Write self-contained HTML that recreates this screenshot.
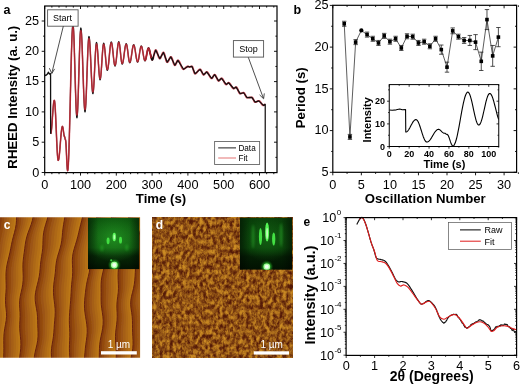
<!DOCTYPE html>
<html><head><meta charset="utf-8"><title>Figure</title>
<style>
html,body{margin:0;padding:0;background:#fff;width:520px;height:386px;overflow:hidden}
svg{display:block}
text{font-family:"Liberation Sans",Arial,sans-serif;fill:#000}
.tl{font-size:12.7px}
.at{font-size:13.2px;font-weight:bold}
.ate{font-size:14px;font-weight:bold}
.pl{font-size:12.5px;font-weight:bold}
.pl2{font-size:12px;font-weight:bold}
.plw{font-size:12px;font-weight:bold;fill:#fff}
.lg{font-size:8.2px}
.lg2{font-size:9px}
.an{font-size:9px}
.il{font-size:9px;font-weight:bold}
.it{font-size:11px;font-weight:bold}
.sup{font-size:8px}
.sb{font-size:10px;fill:#fff}
</style></head><body>
<svg width="520" height="386" viewBox="0 0 520 386">
<rect width="520" height="386" fill="#fff"/>
<g id="panel-c">
<defs><clipPath id="cc"><rect x="0" y="217.3" width="140.1" height="140.5"/></clipPath><filter id="cblur" x="-5%" y="-5%" width="110%" height="110%"><feGaussianBlur stdDeviation="0.6"/></filter></defs>
<g clip-path="url(#cc)"><g filter="url(#cblur)">
<rect x="-5" y="212.3" width="150.1" height="150.5" fill="rgb(122, 48, 12)"/>
<path d="M-14.25 216.3 L-15.29 220.3 L-16.26 224.3 L-17.24 228.3 L-18.31 232.3 L-19.49 236.3 L-20.65 240.3 L-21.62 244.3 L-22.25 248.3 L-22.54 252.3 L-22.55 256.3 L-22.43 260.3 L-22.39 264.3 L-22.56 268.3 L-22.98 272.3 L-23.55 276.3 L-24.11 280.3 L-24.58 284.3 L-25.02 288.3 L-25.56 292.3 L-26.29 296.3 L-27.02 300.3 L-27.55 304.3 L-27.67 308.3 L-27.37 312.3 L-26.85 316.3 L-26.29 320.3 L-25.87 324.3 L-25.63 328.3 L-25.61 332.3 L-25.73 336.3 L-25.88 340.3 L-25.98 344.3 L-26.05 348.3 L-26.18 352.3 L-26.54 356.3 L-27.15 360.3 L150 360.3 L150 216.3Z" fill="rgb(133, 60, 14)"/>
<path d="M-12.26 216.3 L-13.24 220.3 L-14.14 224.3 L-15.06 228.3 L-16.07 232.3 L-17.18 236.3 L-18.27 240.3 L-19.17 244.3 L-19.75 248.3 L-20.03 252.3 L-20.09 256.3 L-20.06 260.3 L-20.14 264.3 L-20.42 268.3 L-20.91 272.3 L-21.52 276.3 L-22.11 280.3 L-22.57 284.3 L-23 288.3 L-23.52 292.3 L-24.2 296.3 L-24.85 300.3 L-25.28 304.3 L-25.29 308.3 L-24.89 312.3 L-24.34 316.3 L-23.78 320.3 L-23.42 324.3 L-23.27 328.3 L-23.33 332.3 L-23.53 336.3 L-23.73 340.3 L-23.89 344.3 L-24.01 348.3 L-24.19 352.3 L-24.57 356.3 L-25.16 360.3 L150 360.3 L150 216.3Z" fill="rgb(146, 74, 17)"/>
<path d="M-10.27 216.3 L-11.19 220.3 L-12.02 224.3 L-12.88 228.3 L-13.83 232.3 L-14.88 236.3 L-15.89 240.3 L-16.72 244.3 L-17.25 248.3 L-17.52 252.3 L-17.63 256.3 L-17.69 260.3 L-17.88 264.3 L-18.27 268.3 L-18.85 272.3 L-19.5 276.3 L-20.1 280.3 L-20.56 284.3 L-20.97 288.3 L-21.47 292.3 L-22.1 296.3 L-22.69 300.3 L-23.01 304.3 L-22.91 308.3 L-22.42 312.3 L-21.82 316.3 L-21.28 320.3 L-20.97 324.3 L-20.9 328.3 L-21.05 332.3 L-21.32 336.3 L-21.59 340.3 L-21.8 344.3 L-21.97 348.3 L-22.2 352.3 L-22.6 356.3 L-23.18 360.3 L150 360.3 L150 216.3Z" fill="rgb(156, 85, 19)"/>
<path d="M-8.29 216.3 L-9.14 220.3 L-9.91 224.3 L-10.7 228.3 L-11.59 232.3 L-12.57 236.3 L-13.51 240.3 L-14.27 244.3 L-14.75 248.3 L-15.01 252.3 L-15.16 256.3 L-15.32 260.3 L-15.63 264.3 L-16.13 268.3 L-16.79 272.3 L-17.48 276.3 L-18.09 280.3 L-18.55 284.3 L-18.95 288.3 L-19.42 292.3 L-20.01 296.3 L-20.52 300.3 L-20.74 304.3 L-20.53 308.3 L-19.95 312.3 L-19.3 316.3 L-18.77 320.3 L-18.53 324.3 L-18.54 328.3 L-18.77 332.3 L-19.11 336.3 L-19.44 340.3 L-19.7 344.3 L-19.93 348.3 L-20.21 352.3 L-20.64 356.3 L-21.2 360.3 L150 360.3 L150 216.3Z" fill="rgb(165, 95, 21)"/>
<path d="M-6.3 216.3 L-7.09 220.3 L-7.79 224.3 L-8.52 228.3 L-9.35 232.3 L-10.27 236.3 L-11.13 240.3 L-11.82 244.3 L-12.25 248.3 L-12.5 252.3 L-12.7 256.3 L-12.95 260.3 L-13.38 264.3 L-13.98 268.3 L-14.72 272.3 L-15.46 276.3 L-16.08 280.3 L-16.53 284.3 L-16.92 288.3 L-17.37 292.3 L-17.92 296.3 L-18.35 300.3 L-18.47 304.3 L-18.15 308.3 L-17.48 312.3 L-16.78 316.3 L-16.27 320.3 L-16.08 324.3 L-16.17 328.3 L-16.49 332.3 L-16.91 336.3 L-17.29 340.3 L-17.61 344.3 L-17.89 348.3 L-18.21 352.3 L-18.67 356.3 L-19.22 360.3 L150 360.3 L150 216.3Z" fill="rgb(173, 104, 22)"/>
<path d="M-4.31 216.3 L-5.04 220.3 L-5.67 224.3 L-6.34 228.3 L-7.11 232.3 L-7.96 236.3 L-8.76 240.3 L-9.37 244.3 L-9.75 248.3 L-10 252.3 L-10.24 256.3 L-10.59 260.3 L-11.12 264.3 L-11.84 268.3 L-12.66 272.3 L-13.44 276.3 L-14.07 280.3 L-14.52 284.3 L-14.9 288.3 L-15.33 292.3 L-15.83 296.3 L-16.18 300.3 L-16.2 304.3 L-15.77 308.3 L-15.01 312.3 L-14.27 316.3 L-13.76 320.3 L-13.63 324.3 L-13.81 328.3 L-14.21 332.3 L-14.7 336.3 L-15.15 340.3 L-15.52 344.3 L-15.85 348.3 L-16.22 352.3 L-16.7 356.3 L-17.24 360.3 L150 360.3 L150 216.3Z" fill="rgb(181, 112, 24)"/>
<path d="M-2.32 216.3 L-2.99 220.3 L-3.56 224.3 L-4.16 228.3 L-4.87 232.3 L-5.66 236.3 L-6.38 240.3 L-6.92 244.3 L-7.25 248.3 L-7.49 252.3 L-7.78 256.3 L-8.22 260.3 L-8.87 264.3 L-9.7 268.3 L-10.59 272.3 L-11.42 276.3 L-12.06 280.3 L-12.51 284.3 L-12.88 288.3 L-13.28 292.3 L-13.73 296.3 L-14.02 300.3 L-13.93 304.3 L-13.39 308.3 L-12.54 312.3 L-11.75 316.3 L-11.25 320.3 L-11.18 324.3 L-11.44 328.3 L-11.94 332.3 L-12.5 336.3 L-13 340.3 L-13.43 344.3 L-13.81 348.3 L-14.23 352.3 L-14.74 356.3 L-15.26 360.3 L150 360.3 L150 216.3Z" fill="rgb(188, 120, 25)"/>
<path d="M-14.25 216.3 L-15.29 220.3 L-16.26 224.3 L-17.24 228.3 L-18.31 232.3 L-19.49 236.3 L-20.65 240.3 L-21.62 244.3 L-22.25 248.3 L-22.54 252.3 L-22.55 256.3 L-22.43 260.3 L-22.39 264.3 L-22.56 268.3 L-22.98 272.3 L-23.55 276.3 L-24.11 280.3 L-24.58 284.3 L-25.02 288.3 L-25.56 292.3 L-26.29 296.3 L-27.02 300.3 L-27.55 304.3 L-27.67 308.3 L-27.37 312.3 L-26.85 316.3 L-26.29 320.3 L-25.87 324.3 L-25.63 328.3 L-25.61 332.3 L-25.73 336.3 L-25.88 340.3 L-25.98 344.3 L-26.05 348.3 L-26.18 352.3 L-26.54 356.3 L-27.15 360.3" fill="none" stroke="rgb(104,34,8)" stroke-width="1.0"/>
<path d="M-0.33 216.3 L-0.94 220.3 L-1.44 224.3 L-1.98 228.3 L-2.63 232.3 L-3.35 236.3 L-4 240.3 L-4.47 244.3 L-4.75 248.3 L-4.98 252.3 L-5.31 256.3 L-5.85 260.3 L-6.62 264.3 L-7.55 268.3 L-8.53 272.3 L-9.4 276.3 L-10.06 280.3 L-10.5 284.3 L-10.85 288.3 L-11.23 292.3 L-11.64 296.3 L-11.85 300.3 L-11.66 304.3 L-11.01 308.3 L-10.07 312.3 L-9.23 316.3 L-8.75 320.3 L-8.73 324.3 L-9.08 328.3 L-9.66 332.3 L-10.29 336.3 L-10.85 340.3 L-11.33 344.3 L-11.77 348.3 L-12.23 352.3 L-12.77 356.3 L-13.28 360.3 L150 360.3 L150 216.3Z" fill="rgb(133, 60, 14)"/>
<path d="M2.09 216.3 L1.56 220.3 L1.08 224.3 L0.52 228.3 L-0.18 232.3 L-0.95 236.3 L-1.65 240.3 L-2.18 244.3 L-2.53 248.3 L-2.84 252.3 L-3.26 256.3 L-3.86 260.3 L-4.65 264.3 L-5.55 268.3 L-6.44 272.3 L-7.2 276.3 L-7.76 280.3 L-8.12 284.3 L-8.42 288.3 L-8.77 292.3 L-9.17 296.3 L-9.37 300.3 L-9.19 304.3 L-8.58 308.3 L-7.71 312.3 L-6.98 316.3 L-6.61 320.3 L-6.7 324.3 L-7.1 328.3 L-7.68 332.3 L-8.27 336.3 L-8.76 340.3 L-9.16 344.3 L-9.53 348.3 L-9.94 352.3 L-10.41 356.3 L-10.86 360.3 L150 360.3 L150 216.3Z" fill="rgb(146, 74, 17)"/>
<path d="M4.52 216.3 L4.05 220.3 L3.6 224.3 L3.02 228.3 L2.28 232.3 L1.45 236.3 L0.7 240.3 L0.11 244.3 L-0.31 248.3 L-0.7 252.3 L-1.21 256.3 L-1.87 260.3 L-2.68 264.3 L-3.55 268.3 L-4.36 272.3 L-5.01 276.3 L-5.45 280.3 L-5.73 284.3 L-5.99 288.3 L-6.31 292.3 L-6.7 296.3 L-6.89 300.3 L-6.73 304.3 L-6.14 308.3 L-5.35 312.3 L-4.73 316.3 L-4.47 320.3 L-4.66 324.3 L-5.12 328.3 L-5.7 332.3 L-6.24 336.3 L-6.67 340.3 L-7 344.3 L-7.3 348.3 L-7.64 352.3 L-8.05 356.3 L-8.43 360.3 L150 360.3 L150 216.3Z" fill="rgb(156, 85, 19)"/>
<path d="M6.95 216.3 L6.55 220.3 L6.12 224.3 L5.52 228.3 L4.73 232.3 L3.86 236.3 L3.05 240.3 L2.4 244.3 L1.91 248.3 L1.43 252.3 L0.84 256.3 L0.12 260.3 L-0.71 264.3 L-1.55 268.3 L-2.27 272.3 L-2.81 276.3 L-3.15 280.3 L-3.35 284.3 L-3.55 288.3 L-3.86 292.3 L-4.23 296.3 L-4.42 300.3 L-4.26 304.3 L-3.71 308.3 L-2.99 312.3 L-2.47 316.3 L-2.34 320.3 L-2.62 324.3 L-3.13 328.3 L-3.72 332.3 L-4.22 336.3 L-4.57 340.3 L-4.83 344.3 L-5.06 348.3 L-5.35 352.3 L-5.7 356.3 L-6.01 360.3 L150 360.3 L150 216.3Z" fill="rgb(165, 95, 21)"/>
<path d="M9.37 216.3 L9.05 220.3 L8.64 224.3 L8.02 228.3 L7.19 232.3 L6.26 236.3 L5.4 240.3 L4.69 244.3 L4.14 248.3 L3.57 252.3 L2.89 256.3 L2.1 260.3 L1.25 264.3 L0.45 268.3 L-0.19 272.3 L-0.62 276.3 L-0.85 280.3 L-0.97 284.3 L-1.12 288.3 L-1.4 292.3 L-1.75 296.3 L-1.94 300.3 L-1.79 304.3 L-1.28 308.3 L-0.63 312.3 L-0.22 316.3 L-0.2 320.3 L-0.58 324.3 L-1.15 328.3 L-1.74 332.3 L-2.19 336.3 L-2.48 340.3 L-2.66 344.3 L-2.83 348.3 L-3.05 352.3 L-3.34 356.3 L-3.59 360.3 L150 360.3 L150 216.3Z" fill="rgb(173, 104, 22)"/>
<path d="M11.8 216.3 L11.55 220.3 L11.16 224.3 L10.52 228.3 L9.64 232.3 L8.66 236.3 L7.74 240.3 L6.98 244.3 L6.36 248.3 L5.71 252.3 L4.95 256.3 L4.09 260.3 L3.22 264.3 L2.46 268.3 L1.9 272.3 L1.58 276.3 L1.45 280.3 L1.41 284.3 L1.31 288.3 L1.06 292.3 L0.72 296.3 L0.54 300.3 L0.68 304.3 L1.15 308.3 L1.73 312.3 L2.04 316.3 L1.94 320.3 L1.46 324.3 L0.83 328.3 L0.24 332.3 L-0.17 336.3 L-0.39 340.3 L-0.49 344.3 L-0.59 348.3 L-0.76 352.3 L-0.98 356.3 L-1.16 360.3 L150 360.3 L150 216.3Z" fill="rgb(181, 112, 24)"/>
<path d="M14.22 216.3 L14.04 220.3 L13.68 224.3 L13.02 228.3 L12.1 232.3 L11.06 236.3 L10.09 240.3 L9.28 244.3 L8.58 248.3 L7.85 252.3 L7 256.3 L6.08 260.3 L5.19 264.3 L4.46 268.3 L3.98 272.3 L3.77 276.3 L3.75 280.3 L3.79 284.3 L3.74 288.3 L3.52 292.3 L3.19 296.3 L3.02 300.3 L3.15 304.3 L3.58 308.3 L4.09 312.3 L4.29 316.3 L4.08 320.3 L3.49 324.3 L2.81 328.3 L2.22 332.3 L1.85 336.3 L1.71 340.3 L1.67 344.3 L1.64 348.3 L1.54 352.3 L1.37 356.3 L1.26 360.3 L150 360.3 L150 216.3Z" fill="rgb(188, 120, 25)"/>
<path d="M-0.33 216.3 L-0.94 220.3 L-1.44 224.3 L-1.98 228.3 L-2.63 232.3 L-3.35 236.3 L-4 240.3 L-4.47 244.3 L-4.75 248.3 L-4.98 252.3 L-5.31 256.3 L-5.85 260.3 L-6.62 264.3 L-7.55 268.3 L-8.53 272.3 L-9.4 276.3 L-10.06 280.3 L-10.5 284.3 L-10.85 288.3 L-11.23 292.3 L-11.64 296.3 L-11.85 300.3 L-11.66 304.3 L-11.01 308.3 L-10.07 312.3 L-9.23 316.3 L-8.75 320.3 L-8.73 324.3 L-9.08 328.3 L-9.66 332.3 L-10.29 336.3 L-10.85 340.3 L-11.33 344.3 L-11.77 348.3 L-12.23 352.3 L-12.77 356.3 L-13.28 360.3" fill="none" stroke="rgb(104,34,8)" stroke-width="1.0"/>
<path d="M16.65 216.3 L16.54 220.3 L16.2 224.3 L15.52 228.3 L14.55 232.3 L13.46 236.3 L12.44 240.3 L11.57 244.3 L10.8 248.3 L9.98 252.3 L9.05 256.3 L8.07 260.3 L7.15 264.3 L6.46 268.3 L6.07 272.3 L5.97 276.3 L6.05 280.3 L6.18 284.3 L6.18 288.3 L5.98 292.3 L5.66 296.3 L5.49 300.3 L5.62 304.3 L6.02 308.3 L6.45 312.3 L6.55 316.3 L6.21 320.3 L5.53 324.3 L4.79 328.3 L4.2 332.3 L3.88 336.3 L3.8 340.3 L3.84 344.3 L3.88 348.3 L3.84 352.3 L3.73 356.3 L3.68 360.3 L150 360.3 L150 216.3Z" fill="rgb(133, 60, 14)"/>
<path d="M19.02 216.3 L18.81 220.3 L18.35 224.3 L17.56 228.3 L16.51 232.3 L15.39 236.3 L14.37 240.3 L13.53 244.3 L12.8 248.3 L12.02 252.3 L11.14 256.3 L10.23 260.3 L9.41 264.3 L8.81 268.3 L8.5 272.3 L8.43 276.3 L8.49 280.3 L8.55 284.3 L8.44 288.3 L8.15 292.3 L7.75 296.3 L7.53 300.3 L7.61 304.3 L7.98 308.3 L8.39 312.3 L8.48 316.3 L8.18 320.3 L7.56 324.3 L6.93 328.3 L6.46 332.3 L6.24 336.3 L6.23 340.3 L6.28 344.3 L6.29 348.3 L6.19 352.3 L6.03 356.3 L5.92 360.3 L150 360.3 L150 216.3Z" fill="rgb(146, 74, 17)"/>
<path d="M21.39 216.3 L21.08 220.3 L20.5 224.3 L19.6 228.3 L18.47 232.3 L17.32 236.3 L16.31 240.3 L15.49 244.3 L14.8 248.3 L14.06 252.3 L13.24 256.3 L12.4 260.3 L11.67 264.3 L11.17 268.3 L10.93 272.3 L10.9 276.3 L10.93 280.3 L10.92 284.3 L10.71 288.3 L10.32 292.3 L9.84 296.3 L9.56 300.3 L9.61 304.3 L9.95 308.3 L10.33 312.3 L10.42 316.3 L10.14 320.3 L9.59 324.3 L9.06 328.3 L8.71 332.3 L8.6 336.3 L8.66 340.3 L8.72 344.3 L8.7 348.3 L8.55 352.3 L8.32 356.3 L8.16 360.3 L150 360.3 L150 216.3Z" fill="rgb(156, 85, 19)"/>
<path d="M23.76 216.3 L23.36 220.3 L22.65 224.3 L21.64 228.3 L20.43 232.3 L19.25 236.3 L18.24 240.3 L17.45 244.3 L16.79 248.3 L16.1 252.3 L15.33 256.3 L14.56 260.3 L13.92 264.3 L13.52 268.3 L13.36 272.3 L13.36 276.3 L13.38 280.3 L13.28 284.3 L12.98 288.3 L12.49 292.3 L11.93 296.3 L11.59 300.3 L11.6 304.3 L11.91 308.3 L12.27 312.3 L12.35 316.3 L12.1 320.3 L11.62 324.3 L11.2 328.3 L10.97 332.3 L10.96 336.3 L11.08 340.3 L11.17 344.3 L11.11 348.3 L10.91 352.3 L10.62 356.3 L10.4 360.3 L150 360.3 L150 216.3Z" fill="rgb(165, 95, 21)"/>
<path d="M26.13 216.3 L25.63 220.3 L24.8 224.3 L23.67 228.3 L22.39 232.3 L21.17 236.3 L20.17 240.3 L19.41 244.3 L18.79 248.3 L18.14 252.3 L17.42 256.3 L16.73 260.3 L16.18 264.3 L15.88 268.3 L15.8 272.3 L15.83 276.3 L15.82 280.3 L15.65 284.3 L15.25 288.3 L14.66 292.3 L14.02 296.3 L13.63 300.3 L13.59 304.3 L13.87 308.3 L14.22 312.3 L14.29 316.3 L14.06 320.3 L13.65 324.3 L13.33 328.3 L13.23 332.3 L13.32 336.3 L13.51 340.3 L13.61 344.3 L13.52 348.3 L13.26 352.3 L12.92 356.3 L12.64 360.3 L150 360.3 L150 216.3Z" fill="rgb(173, 104, 22)"/>
<path d="M28.5 216.3 L27.9 220.3 L26.96 224.3 L25.71 228.3 L24.35 232.3 L23.1 236.3 L22.1 240.3 L21.37 244.3 L20.79 248.3 L20.18 252.3 L19.52 256.3 L18.89 260.3 L18.44 264.3 L18.23 268.3 L18.23 272.3 L18.29 276.3 L18.26 280.3 L18.02 284.3 L17.52 288.3 L16.83 292.3 L16.11 296.3 L15.66 300.3 L15.59 304.3 L15.84 308.3 L16.16 312.3 L16.22 316.3 L16.02 320.3 L15.68 324.3 L15.47 328.3 L15.48 332.3 L15.69 336.3 L15.94 340.3 L16.05 344.3 L15.93 348.3 L15.62 352.3 L15.21 356.3 L14.87 360.3 L150 360.3 L150 216.3Z" fill="rgb(181, 112, 24)"/>
<path d="M30.87 216.3 L30.17 220.3 L29.11 224.3 L27.75 228.3 L26.31 232.3 L25.03 236.3 L24.04 240.3 L23.33 244.3 L22.79 248.3 L22.22 252.3 L21.61 256.3 L21.06 260.3 L20.7 264.3 L20.59 268.3 L20.66 272.3 L20.76 276.3 L20.7 280.3 L20.39 284.3 L19.79 288.3 L19 292.3 L18.2 296.3 L17.69 300.3 L17.58 304.3 L17.8 308.3 L18.1 312.3 L18.16 316.3 L17.99 320.3 L17.71 324.3 L17.6 328.3 L17.74 332.3 L18.05 336.3 L18.37 340.3 L18.49 344.3 L18.35 348.3 L17.98 352.3 L17.51 356.3 L17.11 360.3 L150 360.3 L150 216.3Z" fill="rgb(188, 120, 25)"/>
<path d="M16.65 216.3 L16.54 220.3 L16.2 224.3 L15.52 228.3 L14.55 232.3 L13.46 236.3 L12.44 240.3 L11.57 244.3 L10.8 248.3 L9.98 252.3 L9.05 256.3 L8.07 260.3 L7.15 264.3 L6.46 268.3 L6.07 272.3 L5.97 276.3 L6.05 280.3 L6.18 284.3 L6.18 288.3 L5.98 292.3 L5.66 296.3 L5.49 300.3 L5.62 304.3 L6.02 308.3 L6.45 312.3 L6.55 316.3 L6.21 320.3 L5.53 324.3 L4.79 328.3 L4.2 332.3 L3.88 336.3 L3.8 340.3 L3.84 344.3 L3.88 348.3 L3.84 352.3 L3.73 356.3 L3.68 360.3" fill="none" stroke="rgb(104,34,8)" stroke-width="1.0"/>
<path d="M33.24 216.3 L32.44 220.3 L31.26 224.3 L29.79 228.3 L28.27 232.3 L26.95 236.3 L25.97 240.3 L25.29 244.3 L24.78 248.3 L24.26 252.3 L23.7 256.3 L23.22 260.3 L22.95 264.3 L22.94 268.3 L23.09 272.3 L23.22 276.3 L23.15 280.3 L22.76 284.3 L22.06 288.3 L21.17 292.3 L20.29 296.3 L19.73 300.3 L19.58 304.3 L19.77 308.3 L20.04 312.3 L20.1 316.3 L19.95 320.3 L19.74 324.3 L19.74 328.3 L19.99 332.3 L20.41 336.3 L20.79 340.3 L20.93 344.3 L20.76 348.3 L20.34 352.3 L19.81 356.3 L19.35 360.3 L150 360.3 L150 216.3Z" fill="rgb(133, 60, 14)"/>
<path d="M35.36 216.3 L34.52 220.3 L33.33 224.3 L31.9 228.3 L30.48 232.3 L29.28 236.3 L28.41 240.3 L27.81 244.3 L27.35 248.3 L26.83 252.3 L26.26 256.3 L25.76 260.3 L25.46 264.3 L25.4 268.3 L25.49 272.3 L25.52 276.3 L25.33 280.3 L24.86 284.3 L24.11 288.3 L23.23 292.3 L22.41 296.3 L21.94 300.3 L21.88 304.3 L22.15 308.3 L22.48 312.3 L22.59 316.3 L22.48 320.3 L22.32 324.3 L22.34 328.3 L22.58 332.3 L22.93 336.3 L23.21 340.3 L23.23 344.3 L22.94 348.3 L22.45 352.3 L21.89 356.3 L21.45 360.3 L150 360.3 L150 216.3Z" fill="rgb(146, 74, 17)"/>
<path d="M37.49 216.3 L36.59 220.3 L35.4 224.3 L34.02 228.3 L32.69 232.3 L31.6 236.3 L30.84 240.3 L30.33 244.3 L29.91 248.3 L29.41 252.3 L28.82 256.3 L28.3 260.3 L27.97 264.3 L27.87 268.3 L27.88 272.3 L27.81 276.3 L27.52 280.3 L26.96 284.3 L26.17 288.3 L25.29 292.3 L24.53 296.3 L24.15 300.3 L24.19 304.3 L24.53 308.3 L24.92 312.3 L25.08 316.3 L25.02 320.3 L24.89 324.3 L24.93 328.3 L25.16 332.3 L25.45 336.3 L25.63 340.3 L25.52 344.3 L25.13 348.3 L24.56 352.3 L23.98 356.3 L23.55 360.3 L150 360.3 L150 216.3Z" fill="rgb(156, 85, 19)"/>
<path d="M39.61 216.3 L38.67 220.3 L37.46 224.3 L36.13 228.3 L34.89 232.3 L33.93 236.3 L33.28 240.3 L32.85 244.3 L32.47 248.3 L31.98 252.3 L31.38 256.3 L30.84 260.3 L30.48 264.3 L30.33 268.3 L30.27 272.3 L30.11 276.3 L29.71 280.3 L29.06 284.3 L28.22 288.3 L27.36 292.3 L26.66 296.3 L26.36 300.3 L26.49 304.3 L26.91 308.3 L27.36 312.3 L27.57 316.3 L27.55 320.3 L27.47 324.3 L27.53 328.3 L27.74 332.3 L27.97 336.3 L28.05 340.3 L27.82 344.3 L27.32 348.3 L26.67 352.3 L26.07 356.3 L25.66 360.3 L150 360.3 L150 216.3Z" fill="rgb(165, 95, 21)"/>
<path d="M41.73 216.3 L40.75 220.3 L39.53 224.3 L38.25 228.3 L37.1 232.3 L36.25 236.3 L35.72 240.3 L35.37 244.3 L35.03 248.3 L34.55 252.3 L33.94 256.3 L33.38 260.3 L33 264.3 L32.8 268.3 L32.66 272.3 L32.4 276.3 L31.89 280.3 L31.15 284.3 L30.27 288.3 L29.42 292.3 L28.78 296.3 L28.58 300.3 L28.79 304.3 L29.29 308.3 L29.8 312.3 L30.05 316.3 L30.09 320.3 L30.04 324.3 L30.12 328.3 L30.32 332.3 L30.49 336.3 L30.46 340.3 L30.11 344.3 L29.5 348.3 L28.79 352.3 L28.16 356.3 L27.76 360.3 L150 360.3 L150 216.3Z" fill="rgb(173, 104, 22)"/>
<path d="M43.85 216.3 L42.82 220.3 L41.6 224.3 L40.36 228.3 L39.31 232.3 L38.58 236.3 L38.16 240.3 L37.89 244.3 L37.6 248.3 L37.12 252.3 L36.5 256.3 L35.92 260.3 L35.51 264.3 L35.26 268.3 L35.05 272.3 L34.69 276.3 L34.08 280.3 L33.25 284.3 L32.32 288.3 L31.48 292.3 L30.91 296.3 L30.79 300.3 L31.1 304.3 L31.67 308.3 L32.25 312.3 L32.54 316.3 L32.62 320.3 L32.62 324.3 L32.72 328.3 L32.9 332.3 L33.01 336.3 L32.88 340.3 L32.41 344.3 L31.69 348.3 L30.9 352.3 L30.24 356.3 L29.86 360.3 L150 360.3 L150 216.3Z" fill="rgb(181, 112, 24)"/>
<path d="M45.98 216.3 L44.9 220.3 L43.67 224.3 L42.48 228.3 L41.52 232.3 L40.9 236.3 L40.59 240.3 L40.41 244.3 L40.16 248.3 L39.69 252.3 L39.06 256.3 L38.46 260.3 L38.02 264.3 L37.73 268.3 L37.44 272.3 L36.99 276.3 L36.27 280.3 L35.35 284.3 L34.37 288.3 L33.55 292.3 L33.03 296.3 L33 300.3 L33.4 304.3 L34.06 308.3 L34.69 312.3 L35.03 316.3 L35.16 320.3 L35.19 324.3 L35.32 328.3 L35.49 332.3 L35.53 336.3 L35.3 340.3 L34.71 344.3 L33.87 348.3 L33.01 352.3 L32.33 356.3 L31.96 360.3 L150 360.3 L150 216.3Z" fill="rgb(188, 120, 25)"/>
<path d="M33.24 216.3 L32.44 220.3 L31.26 224.3 L29.79 228.3 L28.27 232.3 L26.95 236.3 L25.97 240.3 L25.29 244.3 L24.78 248.3 L24.26 252.3 L23.7 256.3 L23.22 260.3 L22.95 264.3 L22.94 268.3 L23.09 272.3 L23.22 276.3 L23.15 280.3 L22.76 284.3 L22.06 288.3 L21.17 292.3 L20.29 296.3 L19.73 300.3 L19.58 304.3 L19.77 308.3 L20.04 312.3 L20.1 316.3 L19.95 320.3 L19.74 324.3 L19.74 328.3 L19.99 332.3 L20.41 336.3 L20.79 340.3 L20.93 344.3 L20.76 348.3 L20.34 352.3 L19.81 356.3 L19.35 360.3" fill="none" stroke="rgb(104,34,8)" stroke-width="1.0"/>
<path d="M48.1 216.3 L46.97 220.3 L45.74 224.3 L44.59 228.3 L43.72 232.3 L43.23 236.3 L43.03 240.3 L42.93 244.3 L42.72 248.3 L42.26 252.3 L41.62 256.3 L41 260.3 L40.53 264.3 L40.19 268.3 L39.83 272.3 L39.28 276.3 L38.45 280.3 L37.45 284.3 L36.43 288.3 L35.61 292.3 L35.15 296.3 L35.21 300.3 L35.71 304.3 L36.44 308.3 L37.13 312.3 L37.52 316.3 L37.69 320.3 L37.77 324.3 L37.91 328.3 L38.07 332.3 L38.05 336.3 L37.72 340.3 L37 344.3 L36.06 348.3 L35.13 352.3 L34.42 356.3 L34.06 360.3 L150 360.3 L150 216.3Z" fill="rgb(133, 60, 14)"/>
<path d="M50.51 216.3 L49.45 220.3 L48.3 224.3 L47.23 228.3 L46.42 232.3 L45.94 236.3 L45.71 240.3 L45.53 244.3 L45.2 248.3 L44.63 252.3 L43.91 256.3 L43.24 260.3 L42.74 264.3 L42.4 268.3 L42.05 272.3 L41.51 276.3 L40.72 280.3 L39.78 284.3 L38.87 288.3 L38.16 292.3 L37.81 296.3 L37.92 300.3 L38.42 304.3 L39.1 308.3 L39.71 312.3 L40.03 316.3 L40.13 320.3 L40.14 324.3 L40.23 328.3 L40.32 332.3 L40.25 336.3 L39.88 340.3 L39.17 344.3 L38.28 348.3 L37.44 352.3 L36.86 356.3 L36.61 360.3 L150 360.3 L150 216.3Z" fill="rgb(146, 74, 17)"/>
<path d="M52.92 216.3 L51.93 220.3 L50.85 224.3 L49.86 228.3 L49.11 232.3 L48.66 236.3 L48.39 240.3 L48.12 244.3 L47.69 248.3 L47.01 252.3 L46.2 256.3 L45.48 260.3 L44.96 264.3 L44.61 268.3 L44.26 272.3 L43.74 276.3 L42.99 280.3 L42.12 284.3 L41.3 288.3 L40.72 292.3 L40.46 296.3 L40.63 300.3 L41.13 304.3 L41.76 308.3 L42.3 312.3 L42.54 316.3 L42.56 320.3 L42.52 324.3 L42.55 328.3 L42.58 332.3 L42.45 336.3 L42.04 340.3 L41.33 344.3 L40.5 348.3 L39.76 352.3 L39.29 356.3 L39.16 360.3 L150 360.3 L150 216.3Z" fill="rgb(156, 85, 19)"/>
<path d="M55.33 216.3 L54.41 220.3 L53.41 224.3 L52.49 228.3 L51.81 232.3 L51.37 236.3 L51.07 240.3 L50.72 244.3 L50.17 248.3 L49.38 252.3 L48.49 256.3 L47.72 260.3 L47.18 264.3 L46.83 268.3 L46.48 272.3 L45.97 276.3 L45.25 280.3 L44.46 284.3 L43.74 288.3 L43.27 292.3 L43.11 296.3 L43.34 300.3 L43.84 304.3 L44.42 308.3 L44.89 312.3 L45.04 316.3 L45 320.3 L44.89 324.3 L44.86 328.3 L44.84 332.3 L44.65 336.3 L44.21 340.3 L43.5 344.3 L42.72 348.3 L42.08 352.3 L41.73 356.3 L41.71 360.3 L150 360.3 L150 216.3Z" fill="rgb(165, 95, 21)"/>
<path d="M57.74 216.3 L56.88 220.3 L55.96 224.3 L55.13 228.3 L54.51 232.3 L54.09 236.3 L53.75 240.3 L53.32 244.3 L52.66 248.3 L51.76 252.3 L50.78 256.3 L49.96 260.3 L49.4 264.3 L49.04 268.3 L48.69 272.3 L48.2 276.3 L47.52 280.3 L46.8 284.3 L46.18 288.3 L45.82 292.3 L45.76 296.3 L46.05 300.3 L46.55 304.3 L47.09 308.3 L47.48 312.3 L47.55 316.3 L47.43 320.3 L47.26 324.3 L47.18 328.3 L47.09 332.3 L46.86 336.3 L46.37 340.3 L45.67 344.3 L44.93 348.3 L44.39 352.3 L44.17 356.3 L44.26 360.3 L150 360.3 L150 216.3Z" fill="rgb(173, 104, 22)"/>
<path d="M60.15 216.3 L59.36 220.3 L58.52 224.3 L57.76 228.3 L57.2 232.3 L56.81 236.3 L56.43 240.3 L55.91 244.3 L55.14 248.3 L54.13 252.3 L53.07 256.3 L52.2 260.3 L51.62 264.3 L51.25 268.3 L50.91 272.3 L50.43 276.3 L49.79 280.3 L49.13 284.3 L48.62 288.3 L48.38 292.3 L48.41 296.3 L48.76 300.3 L49.26 304.3 L49.75 308.3 L50.06 312.3 L50.06 316.3 L49.87 320.3 L49.64 324.3 L49.5 328.3 L49.35 332.3 L49.06 336.3 L48.53 340.3 L47.83 344.3 L47.15 348.3 L46.71 352.3 L46.6 356.3 L46.81 360.3 L150 360.3 L150 216.3Z" fill="rgb(181, 112, 24)"/>
<path d="M62.56 216.3 L61.84 220.3 L61.07 224.3 L60.4 228.3 L59.9 232.3 L59.52 236.3 L59.12 240.3 L58.51 244.3 L57.63 248.3 L56.51 252.3 L55.36 256.3 L54.44 260.3 L53.83 264.3 L53.46 268.3 L53.12 272.3 L52.66 276.3 L52.05 280.3 L51.47 284.3 L51.06 288.3 L50.93 292.3 L51.07 296.3 L51.46 300.3 L51.97 304.3 L52.41 308.3 L52.65 312.3 L52.56 316.3 L52.3 320.3 L52.01 324.3 L51.81 328.3 L51.61 332.3 L51.26 336.3 L50.7 340.3 L50 344.3 L49.37 348.3 L49.03 352.3 L49.04 356.3 L49.36 360.3 L150 360.3 L150 216.3Z" fill="rgb(188, 120, 25)"/>
<path d="M48.1 216.3 L46.97 220.3 L45.74 224.3 L44.59 228.3 L43.72 232.3 L43.23 236.3 L43.03 240.3 L42.93 244.3 L42.72 248.3 L42.26 252.3 L41.62 256.3 L41 260.3 L40.53 264.3 L40.19 268.3 L39.83 272.3 L39.28 276.3 L38.45 280.3 L37.45 284.3 L36.43 288.3 L35.61 292.3 L35.15 296.3 L35.21 300.3 L35.71 304.3 L36.44 308.3 L37.13 312.3 L37.52 316.3 L37.69 320.3 L37.77 324.3 L37.91 328.3 L38.07 332.3 L38.05 336.3 L37.72 340.3 L37 344.3 L36.06 348.3 L35.13 352.3 L34.42 356.3 L34.06 360.3" fill="none" stroke="rgb(104,34,8)" stroke-width="1.0"/>
<path d="M64.98 216.3 L64.32 220.3 L63.63 224.3 L63.03 228.3 L62.59 232.3 L62.24 236.3 L61.8 240.3 L61.11 244.3 L60.11 248.3 L58.88 252.3 L57.65 256.3 L56.68 260.3 L56.05 264.3 L55.67 268.3 L55.34 272.3 L54.89 276.3 L54.32 280.3 L53.81 284.3 L53.5 288.3 L53.48 292.3 L53.72 296.3 L54.17 300.3 L54.68 304.3 L55.08 308.3 L55.24 312.3 L55.07 316.3 L54.74 320.3 L54.39 324.3 L54.13 328.3 L53.86 332.3 L53.46 336.3 L52.86 340.3 L52.16 344.3 L51.59 348.3 L51.34 352.3 L51.48 356.3 L51.91 360.3 L150 360.3 L150 216.3Z" fill="rgb(133, 60, 14)"/>
<path d="M67.51 216.3 L66.81 220.3 L66.07 224.3 L65.42 228.3 L64.91 232.3 L64.47 236.3 L63.94 240.3 L63.17 244.3 L62.15 248.3 L60.94 252.3 L59.78 256.3 L58.92 260.3 L58.39 264.3 L58.1 268.3 L57.82 272.3 L57.4 276.3 L56.86 280.3 L56.36 284.3 L56.05 288.3 L56.01 292.3 L56.18 296.3 L56.53 300.3 L56.91 304.3 L57.21 308.3 L57.3 312.3 L57.12 316.3 L56.82 320.3 L56.53 324.3 L56.34 328.3 L56.14 332.3 L55.79 336.3 L55.26 340.3 L54.64 344.3 L54.14 348.3 L53.94 352.3 L54.09 356.3 L54.47 360.3 L150 360.3 L150 216.3Z" fill="rgb(146, 74, 17)"/>
<path d="M70.05 216.3 L69.3 220.3 L68.52 224.3 L67.82 228.3 L67.24 232.3 L66.71 236.3 L66.08 240.3 L65.24 244.3 L64.18 248.3 L63 252.3 L61.92 256.3 L61.15 260.3 L60.73 264.3 L60.52 268.3 L60.3 272.3 L59.92 276.3 L59.4 280.3 L58.92 284.3 L58.61 288.3 L58.53 292.3 L58.64 296.3 L58.89 300.3 L59.15 304.3 L59.34 308.3 L59.37 312.3 L59.18 316.3 L58.91 320.3 L58.68 324.3 L58.56 328.3 L58.42 332.3 L58.13 336.3 L57.67 340.3 L57.11 344.3 L56.68 348.3 L56.54 352.3 L56.7 356.3 L57.04 360.3 L150 360.3 L150 216.3Z" fill="rgb(156, 85, 19)"/>
<path d="M72.59 216.3 L71.8 220.3 L70.96 224.3 L70.21 228.3 L69.56 232.3 L68.94 236.3 L68.22 240.3 L67.31 244.3 L66.22 248.3 L65.06 252.3 L64.05 256.3 L63.39 260.3 L63.08 264.3 L62.95 268.3 L62.78 272.3 L62.43 276.3 L61.94 280.3 L61.47 284.3 L61.16 288.3 L61.06 292.3 L61.1 296.3 L61.24 300.3 L61.39 304.3 L61.47 308.3 L61.44 312.3 L61.23 316.3 L61 320.3 L60.82 324.3 L60.77 328.3 L60.7 332.3 L60.47 336.3 L60.07 340.3 L59.59 344.3 L59.23 348.3 L59.14 352.3 L59.3 356.3 L59.6 360.3 L150 360.3 L150 216.3Z" fill="rgb(165, 95, 21)"/>
<path d="M75.13 216.3 L74.29 220.3 L73.41 224.3 L72.6 228.3 L71.88 232.3 L71.18 236.3 L70.37 240.3 L69.38 244.3 L68.25 248.3 L67.12 252.3 L66.18 256.3 L65.63 260.3 L65.42 264.3 L65.38 268.3 L65.26 272.3 L64.95 276.3 L64.48 280.3 L64.02 284.3 L63.72 288.3 L63.59 292.3 L63.56 296.3 L63.6 300.3 L63.63 304.3 L63.6 308.3 L63.5 312.3 L63.28 316.3 L63.08 320.3 L62.97 324.3 L62.99 328.3 L62.98 332.3 L62.81 336.3 L62.47 340.3 L62.06 344.3 L61.78 348.3 L61.74 352.3 L61.91 356.3 L62.17 360.3 L150 360.3 L150 216.3Z" fill="rgb(173, 104, 22)"/>
<path d="M77.67 216.3 L76.78 220.3 L75.85 224.3 L74.99 228.3 L74.2 232.3 L73.41 236.3 L72.51 240.3 L71.45 244.3 L70.29 248.3 L69.18 252.3 L68.32 256.3 L67.86 260.3 L67.76 264.3 L67.8 268.3 L67.75 272.3 L67.47 276.3 L67.01 280.3 L66.58 284.3 L66.27 288.3 L66.11 292.3 L66.02 296.3 L65.96 300.3 L65.87 304.3 L65.74 308.3 L65.57 312.3 L65.33 316.3 L65.17 320.3 L65.12 324.3 L65.2 328.3 L65.25 332.3 L65.15 336.3 L64.87 340.3 L64.54 344.3 L64.32 348.3 L64.33 352.3 L64.52 356.3 L64.73 360.3 L150 360.3 L150 216.3Z" fill="rgb(181, 112, 24)"/>
<path d="M80.2 216.3 L79.28 220.3 L78.3 224.3 L77.38 228.3 L76.52 232.3 L75.65 236.3 L74.65 240.3 L73.52 244.3 L72.33 248.3 L71.23 252.3 L70.45 256.3 L70.1 260.3 L70.1 264.3 L70.23 268.3 L70.23 272.3 L69.98 276.3 L69.55 280.3 L69.13 284.3 L68.82 288.3 L68.64 292.3 L68.48 296.3 L68.32 300.3 L68.11 304.3 L67.87 308.3 L67.63 312.3 L67.39 316.3 L67.25 320.3 L67.26 324.3 L67.41 328.3 L67.53 332.3 L67.49 336.3 L67.28 340.3 L67.01 344.3 L66.87 348.3 L66.93 352.3 L67.13 356.3 L67.3 360.3 L150 360.3 L150 216.3Z" fill="rgb(188, 120, 25)"/>
<path d="M64.98 216.3 L64.32 220.3 L63.63 224.3 L63.03 228.3 L62.59 232.3 L62.24 236.3 L61.8 240.3 L61.11 244.3 L60.11 248.3 L58.88 252.3 L57.65 256.3 L56.68 260.3 L56.05 264.3 L55.67 268.3 L55.34 272.3 L54.89 276.3 L54.32 280.3 L53.81 284.3 L53.5 288.3 L53.48 292.3 L53.72 296.3 L54.17 300.3 L54.68 304.3 L55.08 308.3 L55.24 312.3 L55.07 316.3 L54.74 320.3 L54.39 324.3 L54.13 328.3 L53.86 332.3 L53.46 336.3 L52.86 340.3 L52.16 344.3 L51.59 348.3 L51.34 352.3 L51.48 356.3 L51.91 360.3" fill="none" stroke="rgb(104,34,8)" stroke-width="1.0"/>
<path d="M82.74 216.3 L81.77 220.3 L80.75 224.3 L79.77 228.3 L78.84 232.3 L77.88 236.3 L76.8 240.3 L75.58 244.3 L74.36 248.3 L73.29 252.3 L72.58 256.3 L72.34 260.3 L72.44 264.3 L72.65 268.3 L72.71 272.3 L72.5 276.3 L72.09 280.3 L71.68 284.3 L71.38 288.3 L71.17 292.3 L70.94 296.3 L70.67 300.3 L70.34 304.3 L70 308.3 L69.7 312.3 L69.44 316.3 L69.34 320.3 L69.41 324.3 L69.63 328.3 L69.81 332.3 L69.82 336.3 L69.68 340.3 L69.49 344.3 L69.41 348.3 L69.53 352.3 L69.74 356.3 L69.86 360.3 L150 360.3 L150 216.3Z" fill="rgb(133, 60, 14)"/>
<path d="M84.8 216.3 L83.78 220.3 L82.75 224.3 L81.8 228.3 L80.9 232.3 L79.97 236.3 L78.93 240.3 L77.79 244.3 L76.66 248.3 L75.7 252.3 L75.07 256.3 L74.87 260.3 L74.96 264.3 L75.11 268.3 L75.08 272.3 L74.77 276.3 L74.28 280.3 L73.81 284.3 L73.46 288.3 L73.21 292.3 L72.95 296.3 L72.67 300.3 L72.36 304.3 L72.08 308.3 L71.88 312.3 L71.73 316.3 L71.75 320.3 L71.89 324.3 L72.13 328.3 L72.3 332.3 L72.27 336.3 L72.07 340.3 L71.82 344.3 L71.69 348.3 L71.74 352.3 L71.87 356.3 L71.91 360.3 L150 360.3 L150 216.3Z" fill="rgb(146, 74, 17)"/>
<path d="M86.85 216.3 L85.79 220.3 L84.76 224.3 L83.82 228.3 L82.95 232.3 L82.06 236.3 L81.07 240.3 L80 244.3 L78.96 248.3 L78.1 252.3 L77.56 256.3 L77.4 260.3 L77.49 264.3 L77.57 268.3 L77.45 272.3 L77.04 276.3 L76.47 280.3 L75.94 284.3 L75.55 288.3 L75.26 292.3 L74.96 296.3 L74.67 300.3 L74.37 304.3 L74.15 308.3 L74.05 312.3 L74.03 316.3 L74.15 320.3 L74.37 324.3 L74.64 328.3 L74.79 332.3 L74.71 336.3 L74.46 340.3 L74.16 344.3 L73.97 348.3 L73.95 352.3 L73.99 356.3 L73.95 360.3 L150 360.3 L150 216.3Z" fill="rgb(156, 85, 19)"/>
<path d="M88.91 216.3 L87.81 220.3 L86.77 224.3 L85.85 228.3 L85.01 232.3 L84.15 236.3 L83.21 240.3 L82.2 244.3 L81.26 248.3 L80.5 252.3 L80.05 256.3 L79.94 260.3 L80.01 264.3 L80.04 268.3 L79.81 272.3 L79.31 276.3 L78.66 280.3 L78.07 284.3 L77.63 288.3 L77.3 292.3 L76.98 296.3 L76.67 300.3 L76.39 304.3 L76.22 308.3 L76.23 312.3 L76.33 316.3 L76.56 320.3 L76.85 324.3 L77.15 328.3 L77.27 332.3 L77.15 336.3 L76.85 340.3 L76.49 344.3 L76.25 348.3 L76.16 352.3 L76.12 356.3 L75.99 360.3 L150 360.3 L150 216.3Z" fill="rgb(165, 95, 21)"/>
<path d="M90.96 216.3 L89.82 220.3 L88.78 224.3 L87.87 228.3 L87.06 232.3 L86.24 236.3 L85.34 240.3 L84.41 244.3 L83.56 248.3 L82.9 252.3 L82.54 256.3 L82.47 260.3 L82.54 264.3 L82.5 268.3 L82.18 272.3 L81.58 276.3 L80.85 280.3 L80.2 284.3 L79.72 288.3 L79.35 292.3 L78.99 296.3 L78.66 300.3 L78.4 304.3 L78.3 308.3 L78.4 312.3 L78.62 316.3 L78.97 320.3 L79.34 324.3 L79.65 328.3 L79.76 332.3 L79.6 336.3 L79.24 340.3 L78.83 344.3 L78.53 348.3 L78.37 352.3 L78.25 356.3 L78.03 360.3 L150 360.3 L150 216.3Z" fill="rgb(173, 104, 22)"/>
<path d="M93.01 216.3 L91.83 220.3 L90.78 224.3 L89.9 228.3 L89.11 232.3 L88.33 236.3 L87.48 240.3 L86.62 244.3 L85.86 248.3 L85.31 252.3 L85.03 256.3 L85.01 260.3 L85.06 264.3 L84.96 268.3 L84.55 272.3 L83.85 276.3 L83.04 280.3 L82.33 284.3 L81.8 288.3 L81.4 292.3 L81.01 296.3 L80.66 300.3 L80.41 304.3 L80.37 308.3 L80.58 312.3 L80.92 316.3 L81.37 320.3 L81.82 324.3 L82.16 328.3 L82.25 332.3 L82.04 336.3 L81.63 340.3 L81.17 344.3 L80.81 348.3 L80.58 352.3 L80.37 356.3 L80.07 360.3 L150 360.3 L150 216.3Z" fill="rgb(181, 112, 24)"/>
<path d="M95.07 216.3 L93.84 220.3 L92.79 224.3 L91.92 228.3 L91.17 232.3 L90.41 236.3 L89.62 240.3 L88.82 244.3 L88.16 248.3 L87.71 252.3 L87.52 256.3 L87.54 260.3 L87.58 264.3 L87.42 268.3 L86.92 272.3 L86.12 276.3 L85.23 280.3 L84.46 284.3 L83.88 288.3 L83.44 292.3 L83.02 296.3 L82.66 300.3 L82.43 304.3 L82.45 308.3 L82.75 312.3 L83.21 316.3 L83.78 320.3 L84.3 324.3 L84.67 328.3 L84.74 332.3 L84.48 336.3 L84.02 340.3 L83.5 344.3 L83.09 348.3 L82.79 352.3 L82.5 356.3 L82.11 360.3 L150 360.3 L150 216.3Z" fill="rgb(188, 120, 25)"/>
<path d="M82.74 216.3 L81.77 220.3 L80.75 224.3 L79.77 228.3 L78.84 232.3 L77.88 236.3 L76.8 240.3 L75.58 244.3 L74.36 248.3 L73.29 252.3 L72.58 256.3 L72.34 260.3 L72.44 264.3 L72.65 268.3 L72.71 272.3 L72.5 276.3 L72.09 280.3 L71.68 284.3 L71.38 288.3 L71.17 292.3 L70.94 296.3 L70.67 300.3 L70.34 304.3 L70 308.3 L69.7 312.3 L69.44 316.3 L69.34 320.3 L69.41 324.3 L69.63 328.3 L69.81 332.3 L69.82 336.3 L69.68 340.3 L69.49 344.3 L69.41 348.3 L69.53 352.3 L69.74 356.3 L69.86 360.3" fill="none" stroke="rgb(104,34,8)" stroke-width="1.0"/>
<path d="M97.12 216.3 L95.85 220.3 L94.8 224.3 L93.95 228.3 L93.22 232.3 L92.5 236.3 L91.75 240.3 L91.03 244.3 L90.46 248.3 L90.11 252.3 L90.01 256.3 L90.08 260.3 L90.11 264.3 L89.88 268.3 L89.29 272.3 L88.39 276.3 L87.42 280.3 L86.59 284.3 L85.97 288.3 L85.49 292.3 L85.03 296.3 L84.66 300.3 L84.44 304.3 L84.52 308.3 L84.93 312.3 L85.51 316.3 L86.19 320.3 L86.78 324.3 L87.17 328.3 L87.23 332.3 L86.93 336.3 L86.41 340.3 L85.84 344.3 L85.36 348.3 L85 352.3 L84.63 356.3 L84.16 360.3 L150 360.3 L150 216.3Z" fill="rgb(133, 60, 14)"/>
<path d="M99.19 216.3 L98.03 220.3 L97.09 224.3 L96.33 228.3 L95.65 232.3 L94.95 236.3 L94.2 240.3 L93.47 244.3 L92.88 248.3 L92.49 252.3 L92.32 256.3 L92.29 260.3 L92.2 264.3 L91.88 268.3 L91.23 272.3 L90.34 276.3 L89.41 280.3 L88.66 284.3 L88.13 288.3 L87.73 292.3 L87.33 296.3 L87.01 300.3 L86.85 304.3 L86.98 308.3 L87.41 312.3 L87.99 316.3 L88.62 320.3 L89.11 324.3 L89.39 328.3 L89.33 332.3 L88.95 336.3 L88.39 340.3 L87.83 344.3 L87.38 348.3 L87.05 352.3 L86.72 356.3 L86.31 360.3 L150 360.3 L150 216.3Z" fill="rgb(146, 74, 17)"/>
<path d="M101.25 216.3 L100.21 220.3 L99.38 224.3 L98.71 228.3 L98.08 232.3 L97.4 236.3 L96.65 240.3 L95.9 244.3 L95.29 248.3 L94.86 252.3 L94.62 256.3 L94.5 260.3 L94.3 264.3 L93.88 268.3 L93.18 272.3 L92.28 276.3 L91.4 280.3 L90.74 284.3 L90.29 288.3 L89.96 292.3 L89.63 296.3 L89.36 300.3 L89.25 304.3 L89.43 308.3 L89.9 312.3 L90.48 316.3 L91.05 320.3 L91.45 324.3 L91.6 328.3 L91.43 332.3 L90.96 336.3 L90.38 340.3 L89.81 344.3 L89.4 348.3 L89.11 352.3 L88.82 356.3 L88.45 360.3 L150 360.3 L150 216.3Z" fill="rgb(156, 85, 19)"/>
<path d="M103.32 216.3 L102.39 220.3 L101.67 224.3 L101.09 228.3 L100.51 232.3 L99.85 236.3 L99.09 240.3 L98.34 244.3 L97.71 248.3 L97.24 252.3 L96.93 256.3 L96.71 260.3 L96.4 264.3 L95.88 268.3 L95.12 272.3 L94.23 276.3 L93.4 280.3 L92.81 284.3 L92.45 288.3 L92.2 292.3 L91.93 296.3 L91.72 300.3 L91.66 304.3 L91.89 308.3 L92.39 312.3 L92.96 316.3 L93.48 320.3 L93.78 324.3 L93.81 328.3 L93.52 332.3 L92.98 336.3 L92.36 340.3 L91.8 344.3 L91.41 348.3 L91.16 352.3 L90.92 356.3 L90.6 360.3 L150 360.3 L150 216.3Z" fill="rgb(165, 95, 21)"/>
<path d="M105.39 216.3 L104.57 220.3 L103.97 224.3 L103.47 228.3 L102.94 232.3 L102.3 236.3 L101.54 240.3 L100.78 244.3 L100.12 248.3 L99.62 252.3 L99.24 256.3 L98.92 260.3 L98.5 264.3 L97.89 268.3 L97.07 272.3 L96.17 276.3 L95.39 280.3 L94.88 284.3 L94.61 288.3 L94.44 292.3 L94.23 296.3 L94.07 300.3 L94.06 304.3 L94.34 308.3 L94.87 312.3 L95.44 316.3 L95.91 320.3 L96.12 324.3 L96.03 328.3 L95.62 332.3 L95 336.3 L94.34 340.3 L93.79 344.3 L93.43 348.3 L93.21 352.3 L93.01 356.3 L92.75 360.3 L150 360.3 L150 216.3Z" fill="rgb(173, 104, 22)"/>
<path d="M107.45 216.3 L106.75 220.3 L106.26 224.3 L105.85 228.3 L105.37 232.3 L104.74 236.3 L103.99 240.3 L103.21 244.3 L102.54 248.3 L101.99 252.3 L101.55 256.3 L101.13 260.3 L100.6 264.3 L99.89 268.3 L99.01 272.3 L98.11 276.3 L97.39 280.3 L96.96 284.3 L96.77 288.3 L96.68 292.3 L96.53 296.3 L96.42 300.3 L96.47 304.3 L96.8 308.3 L97.36 312.3 L97.93 316.3 L98.34 320.3 L98.45 324.3 L98.24 328.3 L97.72 332.3 L97.02 336.3 L96.33 340.3 L95.78 344.3 L95.45 348.3 L95.27 352.3 L95.11 356.3 L94.9 360.3 L150 360.3 L150 216.3Z" fill="rgb(181, 112, 24)"/>
<path d="M109.52 216.3 L108.93 220.3 L108.55 224.3 L108.23 228.3 L107.8 232.3 L107.19 236.3 L106.44 240.3 L105.65 244.3 L104.95 248.3 L104.37 252.3 L103.85 256.3 L103.34 260.3 L102.7 264.3 L101.89 268.3 L100.96 272.3 L100.06 276.3 L99.38 280.3 L99.03 284.3 L98.94 288.3 L98.91 292.3 L98.83 296.3 L98.78 300.3 L98.88 304.3 L99.25 308.3 L99.85 312.3 L100.41 316.3 L100.78 320.3 L100.79 324.3 L100.46 328.3 L99.82 332.3 L99.04 336.3 L98.31 340.3 L97.77 344.3 L97.46 348.3 L97.32 352.3 L97.2 356.3 L97.05 360.3 L150 360.3 L150 216.3Z" fill="rgb(188, 120, 25)"/>
<path d="M97.12 216.3 L95.85 220.3 L94.8 224.3 L93.95 228.3 L93.22 232.3 L92.5 236.3 L91.75 240.3 L91.03 244.3 L90.46 248.3 L90.11 252.3 L90.01 256.3 L90.08 260.3 L90.11 264.3 L89.88 268.3 L89.29 272.3 L88.39 276.3 L87.42 280.3 L86.59 284.3 L85.97 288.3 L85.49 292.3 L85.03 296.3 L84.66 300.3 L84.44 304.3 L84.52 308.3 L84.93 312.3 L85.51 316.3 L86.19 320.3 L86.78 324.3 L87.17 328.3 L87.23 332.3 L86.93 336.3 L86.41 340.3 L85.84 344.3 L85.36 348.3 L85 352.3 L84.63 356.3 L84.16 360.3" fill="none" stroke="rgb(104,34,8)" stroke-width="1.0"/>
<path d="M111.58 216.3 L111.11 220.3 L110.84 224.3 L110.61 228.3 L110.23 232.3 L109.64 236.3 L108.88 240.3 L108.08 244.3 L107.37 248.3 L106.74 252.3 L106.16 256.3 L105.55 260.3 L104.8 264.3 L103.89 268.3 L102.9 272.3 L102 276.3 L101.37 280.3 L101.11 284.3 L101.1 288.3 L101.15 292.3 L101.13 296.3 L101.13 300.3 L101.28 304.3 L101.71 308.3 L102.34 312.3 L102.89 316.3 L103.21 320.3 L103.12 324.3 L102.67 328.3 L101.92 332.3 L101.06 336.3 L100.3 340.3 L99.75 344.3 L99.48 348.3 L99.38 352.3 L99.3 356.3 L99.19 360.3 L150 360.3 L150 216.3Z" fill="rgb(133, 60, 14)"/>
<path d="M114.04 216.3 L113.6 220.3 L113.31 224.3 L113 228.3 L112.52 232.3 L111.82 236.3 L110.97 240.3 L110.12 244.3 L109.37 248.3 L108.73 252.3 L108.14 256.3 L107.53 260.3 L106.81 264.3 L105.97 268.3 L105.08 272.3 L104.3 276.3 L103.77 280.3 L103.58 284.3 L103.58 288.3 L103.6 292.3 L103.51 296.3 L103.43 300.3 L103.52 304.3 L103.88 308.3 L104.45 312.3 L104.94 316.3 L105.19 320.3 L105.05 324.3 L104.6 328.3 L103.89 332.3 L103.12 336.3 L102.47 340.3 L102.04 344.3 L101.85 348.3 L101.79 352.3 L101.73 356.3 L101.61 360.3 L150 360.3 L150 216.3Z" fill="rgb(146, 74, 17)"/>
<path d="M116.5 216.3 L116.09 220.3 L115.78 224.3 L115.39 228.3 L114.81 232.3 L113.99 236.3 L113.06 240.3 L112.15 244.3 L111.37 248.3 L110.72 252.3 L110.12 256.3 L109.52 260.3 L108.83 264.3 L108.05 268.3 L107.26 272.3 L106.59 276.3 L106.18 280.3 L106.04 284.3 L106.06 288.3 L106.04 292.3 L105.89 296.3 L105.74 300.3 L105.75 304.3 L106.05 308.3 L106.56 312.3 L106.99 316.3 L107.17 320.3 L106.99 324.3 L106.52 328.3 L105.86 332.3 L105.18 336.3 L104.65 340.3 L104.33 344.3 L104.23 348.3 L104.21 352.3 L104.16 356.3 L104.03 360.3 L150 360.3 L150 216.3Z" fill="rgb(156, 85, 19)"/>
<path d="M118.96 216.3 L118.58 220.3 L118.25 224.3 L117.79 228.3 L117.09 232.3 L116.17 236.3 L115.15 240.3 L114.18 244.3 L113.38 248.3 L112.71 252.3 L112.1 256.3 L111.5 260.3 L110.84 264.3 L110.13 268.3 L109.44 272.3 L108.89 276.3 L108.58 280.3 L108.51 284.3 L108.54 288.3 L108.49 292.3 L108.27 296.3 L108.04 300.3 L107.99 304.3 L108.23 308.3 L108.67 312.3 L109.04 316.3 L109.15 320.3 L108.92 324.3 L108.45 328.3 L107.83 332.3 L107.24 336.3 L106.82 340.3 L106.63 344.3 L106.6 348.3 L106.63 352.3 L106.59 356.3 L106.45 360.3 L150 360.3 L150 216.3Z" fill="rgb(165, 95, 21)"/>
<path d="M121.42 216.3 L121.07 220.3 L120.71 224.3 L120.18 228.3 L119.38 232.3 L118.35 236.3 L117.24 240.3 L116.21 244.3 L115.38 248.3 L114.69 252.3 L114.08 256.3 L113.49 260.3 L112.86 264.3 L112.21 268.3 L111.62 272.3 L111.18 276.3 L110.98 280.3 L110.98 284.3 L111.02 288.3 L110.93 292.3 L110.65 296.3 L110.35 300.3 L110.22 304.3 L110.4 308.3 L110.79 312.3 L111.08 316.3 L111.14 320.3 L110.86 324.3 L110.37 328.3 L109.8 332.3 L109.3 336.3 L109 340.3 L108.92 344.3 L108.98 348.3 L109.05 352.3 L109.02 356.3 L108.87 360.3 L150 360.3 L150 216.3Z" fill="rgb(173, 104, 22)"/>
<path d="M123.88 216.3 L123.56 220.3 L123.18 224.3 L122.57 228.3 L121.66 232.3 L120.53 236.3 L119.33 240.3 L118.25 244.3 L117.38 248.3 L116.68 252.3 L116.06 256.3 L115.47 260.3 L114.87 264.3 L114.29 268.3 L113.8 272.3 L113.48 276.3 L113.38 280.3 L113.45 284.3 L113.5 288.3 L113.38 292.3 L113.02 296.3 L112.65 300.3 L112.46 304.3 L112.57 308.3 L112.9 312.3 L113.13 316.3 L113.12 320.3 L112.79 324.3 L112.3 328.3 L111.77 332.3 L111.36 336.3 L111.18 340.3 L111.21 344.3 L111.35 348.3 L111.47 352.3 L111.44 356.3 L111.28 360.3 L150 360.3 L150 216.3Z" fill="rgb(181, 112, 24)"/>
<path d="M126.34 216.3 L126.05 220.3 L125.65 224.3 L124.96 228.3 L123.95 232.3 L122.7 236.3 L121.42 240.3 L120.28 244.3 L119.38 248.3 L118.67 252.3 L118.04 256.3 L117.46 260.3 L116.89 264.3 L116.37 268.3 L115.98 272.3 L115.78 276.3 L115.78 280.3 L115.92 284.3 L115.99 288.3 L115.82 292.3 L115.4 296.3 L114.96 300.3 L114.69 304.3 L114.75 308.3 L115.01 312.3 L115.18 316.3 L115.1 320.3 L114.73 324.3 L114.22 328.3 L113.74 332.3 L113.42 336.3 L113.35 340.3 L113.5 344.3 L113.73 348.3 L113.89 352.3 L113.87 356.3 L113.7 360.3 L150 360.3 L150 216.3Z" fill="rgb(188, 120, 25)"/>
<path d="M111.58 216.3 L111.11 220.3 L110.84 224.3 L110.61 228.3 L110.23 232.3 L109.64 236.3 L108.88 240.3 L108.08 244.3 L107.37 248.3 L106.74 252.3 L106.16 256.3 L105.55 260.3 L104.8 264.3 L103.89 268.3 L102.9 272.3 L102 276.3 L101.37 280.3 L101.11 284.3 L101.1 288.3 L101.15 292.3 L101.13 296.3 L101.13 300.3 L101.28 304.3 L101.71 308.3 L102.34 312.3 L102.89 316.3 L103.21 320.3 L103.12 324.3 L102.67 328.3 L101.92 332.3 L101.06 336.3 L100.3 340.3 L99.75 344.3 L99.48 348.3 L99.38 352.3 L99.3 356.3 L99.19 360.3" fill="none" stroke="rgb(104,34,8)" stroke-width="1.0"/>
<path d="M128.79 216.3 L128.54 220.3 L128.11 224.3 L127.36 228.3 L126.24 232.3 L124.88 236.3 L123.51 240.3 L122.31 244.3 L121.39 248.3 L120.65 252.3 L120.02 256.3 L119.44 260.3 L118.9 264.3 L118.45 268.3 L118.16 272.3 L118.07 276.3 L118.18 280.3 L118.38 284.3 L118.47 288.3 L118.27 292.3 L117.78 296.3 L117.26 300.3 L116.93 304.3 L116.92 308.3 L117.13 312.3 L117.23 316.3 L117.08 320.3 L116.66 324.3 L116.15 328.3 L115.7 332.3 L115.48 336.3 L115.53 340.3 L115.79 344.3 L116.1 348.3 L116.31 352.3 L116.3 356.3 L116.12 360.3 L150 360.3 L150 216.3Z" fill="rgb(133, 60, 14)"/>
<path d="M131.03 216.3 L130.69 220.3 L130.17 224.3 L129.32 228.3 L128.16 232.3 L126.81 236.3 L125.5 240.3 L124.41 244.3 L123.58 248.3 L122.94 252.3 L122.36 256.3 L121.83 260.3 L121.32 264.3 L120.89 268.3 L120.61 272.3 L120.5 276.3 L120.56 280.3 L120.66 284.3 L120.62 288.3 L120.31 292.3 L119.75 296.3 L119.2 300.3 L118.89 304.3 L118.94 308.3 L119.2 312.3 L119.36 316.3 L119.28 320.3 L118.93 324.3 L118.49 328.3 L118.12 332.3 L117.96 336.3 L118.03 340.3 L118.25 344.3 L118.49 348.3 L118.59 352.3 L118.47 356.3 L118.2 360.3 L150 360.3 L150 216.3Z" fill="rgb(146, 74, 17)"/>
<path d="M133.27 216.3 L132.84 220.3 L132.22 224.3 L131.29 228.3 L130.08 232.3 L128.75 236.3 L127.5 240.3 L126.5 244.3 L125.78 248.3 L125.22 252.3 L124.71 256.3 L124.21 260.3 L123.73 264.3 L123.33 268.3 L123.06 272.3 L122.94 276.3 L122.93 280.3 L122.93 284.3 L122.78 288.3 L122.36 292.3 L121.72 296.3 L121.15 300.3 L120.86 304.3 L120.95 308.3 L121.28 312.3 L121.5 316.3 L121.47 320.3 L121.19 324.3 L120.83 328.3 L120.54 332.3 L120.43 336.3 L120.53 340.3 L120.72 344.3 L120.87 348.3 L120.86 352.3 L120.63 356.3 L120.28 360.3 L150 360.3 L150 216.3Z" fill="rgb(156, 85, 19)"/>
<path d="M135.51 216.3 L134.99 220.3 L134.27 224.3 L133.26 228.3 L132 232.3 L130.68 236.3 L129.5 240.3 L128.59 244.3 L127.98 248.3 L127.5 252.3 L127.05 256.3 L126.6 260.3 L126.15 264.3 L125.77 268.3 L125.51 272.3 L125.37 276.3 L125.3 280.3 L125.21 284.3 L124.93 288.3 L124.4 292.3 L123.69 296.3 L123.09 300.3 L122.82 304.3 L122.97 308.3 L123.36 312.3 L123.63 316.3 L123.67 320.3 L123.45 324.3 L123.16 328.3 L122.95 332.3 L122.91 336.3 L123.03 340.3 L123.19 344.3 L123.26 348.3 L123.14 352.3 L122.8 356.3 L122.35 360.3 L150 360.3 L150 216.3Z" fill="rgb(165, 95, 21)"/>
<path d="M137.74 216.3 L137.14 220.3 L136.32 224.3 L135.22 228.3 L133.93 232.3 L132.61 236.3 L131.5 240.3 L130.69 244.3 L130.17 248.3 L129.78 252.3 L129.39 256.3 L128.98 260.3 L128.57 264.3 L128.21 268.3 L127.96 272.3 L127.8 276.3 L127.68 280.3 L127.48 284.3 L127.09 288.3 L126.44 292.3 L125.65 296.3 L125.03 300.3 L124.79 304.3 L124.99 308.3 L125.43 312.3 L125.77 316.3 L125.86 320.3 L125.71 324.3 L125.5 328.3 L125.37 332.3 L125.39 336.3 L125.53 340.3 L125.66 344.3 L125.65 348.3 L125.41 352.3 L124.96 356.3 L124.43 360.3 L150 360.3 L150 216.3Z" fill="rgb(173, 104, 22)"/>
<path d="M139.98 216.3 L139.28 220.3 L138.37 224.3 L137.19 228.3 L135.85 232.3 L134.55 236.3 L133.5 240.3 L132.78 244.3 L132.37 248.3 L132.06 252.3 L131.74 256.3 L131.37 260.3 L130.98 264.3 L130.65 268.3 L130.41 272.3 L130.23 276.3 L130.05 280.3 L129.76 284.3 L129.24 288.3 L128.49 292.3 L127.62 296.3 L126.98 300.3 L126.75 304.3 L127 308.3 L127.51 312.3 L127.91 316.3 L128.06 320.3 L127.97 324.3 L127.84 328.3 L127.79 332.3 L127.87 336.3 L128.04 340.3 L128.13 344.3 L128.04 348.3 L127.69 352.3 L127.13 356.3 L126.51 360.3 L150 360.3 L150 216.3Z" fill="rgb(181, 112, 24)"/>
<path d="M142.22 216.3 L141.43 220.3 L140.42 224.3 L139.16 228.3 L137.77 232.3 L136.48 236.3 L135.49 240.3 L134.88 244.3 L134.57 248.3 L134.35 252.3 L134.08 256.3 L133.75 260.3 L133.4 264.3 L133.09 268.3 L132.86 272.3 L132.67 276.3 L132.42 280.3 L132.03 284.3 L131.4 288.3 L130.53 292.3 L129.59 296.3 L128.92 300.3 L128.72 304.3 L129.02 308.3 L129.59 312.3 L130.04 316.3 L130.25 320.3 L130.23 324.3 L130.17 328.3 L130.2 332.3 L130.35 336.3 L130.54 340.3 L130.6 344.3 L130.42 348.3 L129.96 352.3 L129.29 356.3 L128.59 360.3 L150 360.3 L150 216.3Z" fill="rgb(188, 120, 25)"/>
<path d="M128.79 216.3 L128.54 220.3 L128.11 224.3 L127.36 228.3 L126.24 232.3 L124.88 236.3 L123.51 240.3 L122.31 244.3 L121.39 248.3 L120.65 252.3 L120.02 256.3 L119.44 260.3 L118.9 264.3 L118.45 268.3 L118.16 272.3 L118.07 276.3 L118.18 280.3 L118.38 284.3 L118.47 288.3 L118.27 292.3 L117.78 296.3 L117.26 300.3 L116.93 304.3 L116.92 308.3 L117.13 312.3 L117.23 316.3 L117.08 320.3 L116.66 324.3 L116.15 328.3 L115.7 332.3 L115.48 336.3 L115.53 340.3 L115.79 344.3 L116.1 348.3 L116.31 352.3 L116.3 356.3 L116.12 360.3" fill="none" stroke="rgb(104,34,8)" stroke-width="1.0"/>
<path d="M144.45 216.3 L143.58 220.3 L142.47 224.3 L141.12 228.3 L139.69 232.3 L138.42 236.3 L137.49 240.3 L136.97 244.3 L136.76 248.3 L136.63 252.3 L136.42 256.3 L136.14 260.3 L135.81 264.3 L135.53 268.3 L135.31 272.3 L135.1 276.3 L134.79 280.3 L134.31 284.3 L133.55 288.3 L132.57 292.3 L131.56 296.3 L130.86 300.3 L130.68 304.3 L131.03 308.3 L131.66 312.3 L132.18 316.3 L132.45 320.3 L132.49 324.3 L132.51 328.3 L132.62 332.3 L132.83 336.3 L133.04 340.3 L133.07 344.3 L132.81 348.3 L132.24 352.3 L131.45 356.3 L130.67 360.3 L150 360.3 L150 216.3Z" fill="rgb(133, 60, 14)"/>
<path d="M146.47 216.3 L145.62 220.3 L144.55 224.3 L143.27 228.3 L141.94 232.3 L140.76 236.3 L139.93 240.3 L139.47 244.3 L139.26 248.3 L139.08 252.3 L138.79 256.3 L138.41 260.3 L138 264.3 L137.66 268.3 L137.39 272.3 L137.13 276.3 L136.78 280.3 L136.27 284.3 L135.52 288.3 L134.59 292.3 L133.67 296.3 L133.1 300.3 L133.03 304.3 L133.47 308.3 L134.13 312.3 L134.64 316.3 L134.88 320.3 L134.87 324.3 L134.84 328.3 L134.9 332.3 L135.04 336.3 L135.16 340.3 L135.1 344.3 L134.77 348.3 L134.16 352.3 L133.4 356.3 L132.68 360.3 L150 360.3 L150 216.3Z" fill="rgb(146, 74, 17)"/>
<path d="M148.48 216.3 L147.66 220.3 L146.63 224.3 L145.42 228.3 L144.18 232.3 L143.11 236.3 L142.38 240.3 L141.97 244.3 L141.76 248.3 L141.53 252.3 L141.15 256.3 L140.68 260.3 L140.19 264.3 L139.78 268.3 L139.46 272.3 L139.16 276.3 L138.77 280.3 L138.23 284.3 L137.49 288.3 L136.61 292.3 L135.79 296.3 L135.33 300.3 L135.39 304.3 L135.9 308.3 L136.6 312.3 L137.1 316.3 L137.3 320.3 L137.25 324.3 L137.18 328.3 L137.18 332.3 L137.25 336.3 L137.29 340.3 L137.14 344.3 L136.72 348.3 L136.08 352.3 L135.34 356.3 L134.7 360.3 L150 360.3 L150 216.3Z" fill="rgb(156, 85, 19)"/>
<path d="M150.49 216.3 L149.7 220.3 L148.72 224.3 L147.57 228.3 L146.42 232.3 L145.46 236.3 L144.82 240.3 L144.47 244.3 L144.26 248.3 L143.98 252.3 L143.52 256.3 L142.95 260.3 L142.38 264.3 L141.91 268.3 L141.54 272.3 L141.19 276.3 L140.76 280.3 L140.2 284.3 L139.46 288.3 L138.63 292.3 L137.9 296.3 L137.57 300.3 L137.74 304.3 L138.33 308.3 L139.07 312.3 L139.56 316.3 L139.73 320.3 L139.63 324.3 L139.51 328.3 L139.46 332.3 L139.46 336.3 L139.41 340.3 L139.17 344.3 L138.68 348.3 L138 352.3 L137.28 356.3 L136.71 360.3 L150 360.3 L150 216.3Z" fill="rgb(165, 95, 21)"/>
<path d="M152.51 216.3 L151.74 220.3 L150.8 224.3 L149.72 228.3 L148.66 232.3 L147.81 236.3 L147.27 240.3 L146.97 244.3 L146.77 248.3 L146.43 252.3 L145.88 256.3 L145.22 260.3 L144.57 264.3 L144.04 268.3 L143.62 272.3 L143.22 276.3 L142.75 280.3 L142.16 284.3 L141.43 288.3 L140.65 292.3 L140.02 296.3 L139.8 300.3 L140.09 304.3 L140.77 308.3 L141.54 312.3 L142.02 316.3 L142.15 320.3 L142.01 324.3 L141.84 328.3 L141.73 332.3 L141.67 336.3 L141.54 340.3 L141.2 344.3 L140.64 348.3 L139.93 352.3 L139.22 356.3 L138.72 360.3 L150 360.3 L150 216.3Z" fill="rgb(173, 104, 22)"/>
<path d="M154.52 216.3 L153.78 220.3 L152.88 224.3 L151.87 228.3 L150.9 232.3 L150.16 236.3 L149.71 240.3 L149.47 244.3 L149.27 248.3 L148.88 252.3 L148.25 256.3 L147.49 260.3 L146.76 264.3 L146.17 268.3 L145.69 272.3 L145.25 276.3 L144.74 280.3 L144.12 284.3 L143.4 288.3 L142.67 292.3 L142.13 296.3 L142.04 300.3 L142.44 304.3 L143.2 308.3 L144.01 312.3 L144.48 316.3 L144.58 320.3 L144.39 324.3 L144.17 328.3 L144.01 332.3 L143.88 336.3 L143.66 340.3 L143.23 344.3 L142.59 348.3 L141.85 352.3 L141.17 356.3 L140.74 360.3 L150 360.3 L150 216.3Z" fill="rgb(181, 112, 24)"/>
<path d="M156.53 216.3 L155.82 220.3 L154.96 224.3 L154.01 228.3 L153.14 232.3 L152.51 236.3 L152.15 240.3 L151.97 244.3 L151.77 248.3 L151.33 252.3 L150.61 256.3 L149.76 260.3 L148.95 264.3 L148.29 268.3 L147.77 272.3 L147.28 276.3 L146.73 280.3 L146.09 284.3 L145.36 288.3 L144.69 292.3 L144.25 296.3 L144.28 300.3 L144.79 304.3 L145.63 308.3 L146.47 312.3 L146.94 316.3 L147 320.3 L146.77 324.3 L146.51 328.3 L146.29 332.3 L146.09 336.3 L145.79 340.3 L145.27 344.3 L144.55 348.3 L143.77 352.3 L143.11 356.3 L142.75 360.3 L150 360.3 L150 216.3Z" fill="rgb(188, 120, 25)"/>
<path d="M144.45 216.3 L143.58 220.3 L142.47 224.3 L141.12 228.3 L139.69 232.3 L138.42 236.3 L137.49 240.3 L136.97 244.3 L136.76 248.3 L136.63 252.3 L136.42 256.3 L136.14 260.3 L135.81 264.3 L135.53 268.3 L135.31 272.3 L135.1 276.3 L134.79 280.3 L134.31 284.3 L133.55 288.3 L132.57 292.3 L131.56 296.3 L130.86 300.3 L130.68 304.3 L131.03 308.3 L131.66 312.3 L132.18 316.3 L132.45 320.3 L132.49 324.3 L132.51 328.3 L132.62 332.3 L132.83 336.3 L133.04 340.3 L133.07 344.3 L132.81 348.3 L132.24 352.3 L131.45 356.3 L130.67 360.3" fill="none" stroke="rgb(104,34,8)" stroke-width="1.0"/>
<path d="M158.54 216.3 L157.86 220.3 L157.04 224.3 L156.16 228.3 L155.39 232.3 L154.86 236.3 L154.6 240.3 L154.47 244.3 L154.27 248.3 L153.78 252.3 L152.97 256.3 L152.04 260.3 L151.14 264.3 L150.42 268.3 L149.85 272.3 L149.32 276.3 L148.72 280.3 L148.05 284.3 L147.33 288.3 L146.71 292.3 L146.37 296.3 L146.51 300.3 L147.14 304.3 L148.07 308.3 L148.94 312.3 L149.4 316.3 L149.43 320.3 L149.15 324.3 L148.84 328.3 L148.57 332.3 L148.3 336.3 L147.91 340.3 L147.3 344.3 L146.51 348.3 L145.69 352.3 L145.05 356.3 L144.77 360.3 L150 360.3 L150 216.3Z" fill="rgb(133, 60, 14)"/>
<path d="M161.01 216.3 L160.35 220.3 L159.54 224.3 L158.66 228.3 L157.87 232.3 L157.31 236.3 L156.99 240.3 L156.77 244.3 L156.45 248.3 L155.86 252.3 L154.99 256.3 L154.04 260.3 L153.18 264.3 L152.53 268.3 L152.04 272.3 L151.58 276.3 L151.05 280.3 L150.43 284.3 L149.78 288.3 L149.22 292.3 L148.91 296.3 L149.06 300.3 L149.65 304.3 L150.49 308.3 L151.25 312.3 L151.59 316.3 L151.53 320.3 L151.21 324.3 L150.89 328.3 L150.64 332.3 L150.4 336.3 L150.04 340.3 L149.48 344.3 L148.76 348.3 L148.03 352.3 L147.49 356.3 L147.3 360.3 L150 360.3 L150 216.3Z" fill="rgb(146, 74, 17)"/>
<path d="M163.48 216.3 L162.85 220.3 L162.05 224.3 L161.16 228.3 L160.36 232.3 L159.77 236.3 L159.38 240.3 L159.07 244.3 L158.64 248.3 L157.94 252.3 L157 256.3 L156.04 260.3 L155.22 264.3 L154.64 268.3 L154.23 272.3 L153.85 276.3 L153.38 280.3 L152.82 284.3 L152.22 288.3 L151.72 292.3 L151.46 296.3 L151.62 300.3 L152.16 304.3 L152.91 308.3 L153.55 312.3 L153.78 316.3 L153.63 320.3 L153.26 324.3 L152.94 328.3 L152.7 332.3 L152.49 336.3 L152.17 340.3 L151.66 344.3 L151 348.3 L150.37 352.3 L149.93 356.3 L149.82 360.3 L150 360.3 L150 216.3Z" fill="rgb(156, 85, 19)"/>
<path d="M165.95 216.3 L165.34 220.3 L164.55 224.3 L163.66 228.3 L162.85 232.3 L162.23 236.3 L161.78 240.3 L161.37 244.3 L160.82 248.3 L160.02 252.3 L159.01 256.3 L158.04 260.3 L157.26 264.3 L156.75 268.3 L156.42 272.3 L156.11 276.3 L155.71 280.3 L155.21 284.3 L154.67 288.3 L154.22 292.3 L154 296.3 L154.17 300.3 L154.67 304.3 L155.33 308.3 L155.85 312.3 L155.96 316.3 L155.73 320.3 L155.32 324.3 L154.99 328.3 L154.77 332.3 L154.59 336.3 L154.3 340.3 L153.83 344.3 L153.25 348.3 L152.71 352.3 L152.37 356.3 L152.35 360.3 L150 360.3 L150 216.3Z" fill="rgb(165, 95, 21)"/>
<path d="M168.41 216.3 L167.84 220.3 L167.05 224.3 L166.17 228.3 L165.34 232.3 L164.68 236.3 L164.17 240.3 L163.66 244.3 L163.01 248.3 L162.1 252.3 L161.03 256.3 L160.04 260.3 L159.3 264.3 L158.86 268.3 L158.61 272.3 L158.38 276.3 L158.04 280.3 L157.59 284.3 L157.11 288.3 L156.73 292.3 L156.55 296.3 L156.72 300.3 L157.18 304.3 L157.75 308.3 L158.15 312.3 L158.15 316.3 L157.83 320.3 L157.37 324.3 L157.04 328.3 L156.84 332.3 L156.68 336.3 L156.43 340.3 L156.01 344.3 L155.5 348.3 L155.05 352.3 L154.81 356.3 L154.88 360.3 L150 360.3 L150 216.3Z" fill="rgb(173, 104, 22)"/>
<path d="M170.88 216.3 L170.33 220.3 L169.55 224.3 L168.67 228.3 L167.83 232.3 L167.14 236.3 L166.57 240.3 L165.96 244.3 L165.19 248.3 L164.18 252.3 L163.04 256.3 L162.04 260.3 L161.34 264.3 L160.97 268.3 L160.8 272.3 L160.64 276.3 L160.36 280.3 L159.98 284.3 L159.56 288.3 L159.23 292.3 L159.09 296.3 L159.27 300.3 L159.69 304.3 L160.17 308.3 L160.46 312.3 L160.34 316.3 L159.93 320.3 L159.43 324.3 L159.09 328.3 L158.91 332.3 L158.78 336.3 L158.56 340.3 L158.19 344.3 L157.74 348.3 L157.38 352.3 L157.25 356.3 L157.41 360.3 L150 360.3 L150 216.3Z" fill="rgb(181, 112, 24)"/>
<path d="M173.35 216.3 L172.82 220.3 L172.06 224.3 L171.17 228.3 L170.32 232.3 L169.6 236.3 L168.96 240.3 L168.26 244.3 L167.38 248.3 L166.26 252.3 L165.05 256.3 L164.03 260.3 L163.37 264.3 L163.08 268.3 L162.99 272.3 L162.91 276.3 L162.69 280.3 L162.37 284.3 L162 288.3 L161.73 292.3 L161.64 296.3 L161.83 300.3 L162.2 304.3 L162.59 308.3 L162.76 312.3 L162.52 316.3 L162.03 320.3 L161.49 324.3 L161.13 328.3 L160.97 332.3 L160.87 336.3 L160.7 340.3 L160.37 344.3 L159.99 348.3 L159.72 352.3 L159.69 356.3 L159.94 360.3 L150 360.3 L150 216.3Z" fill="rgb(188, 120, 25)"/>
<path d="M158.54 216.3 L157.86 220.3 L157.04 224.3 L156.16 228.3 L155.39 232.3 L154.86 236.3 L154.6 240.3 L154.47 244.3 L154.27 248.3 L153.78 252.3 L152.97 256.3 L152.04 260.3 L151.14 264.3 L150.42 268.3 L149.85 272.3 L149.32 276.3 L148.72 280.3 L148.05 284.3 L147.33 288.3 L146.71 292.3 L146.37 296.3 L146.51 300.3 L147.14 304.3 L148.07 308.3 L148.94 312.3 L149.4 316.3 L149.43 320.3 L149.15 324.3 L148.84 328.3 L148.57 332.3 L148.3 336.3 L147.91 340.3 L147.3 344.3 L146.51 348.3 L145.69 352.3 L145.05 356.3 L144.77 360.3" fill="none" stroke="rgb(104,34,8)" stroke-width="1.0"/>
</g></g>
<text x="3.7" y="229.1" class="plw">c</text>
<rect x="101" y="351.2" width="35.8" height="3.3" fill="#fff"/>
<text x="118.9" y="348.4" text-anchor="middle" class="sb">1 µm</text>
</g>
<g id="panel-d">
<defs><filter id="grain" x="0" y="0" width="100%" height="100%" color-interpolation-filters="sRGB"><feTurbulence type="fractalNoise" baseFrequency="0.3 0.2" numOctaves="4" seed="11" result="n"/><feColorMatrix in="n" type="matrix" values="0.55 0.45 0 0 0  0.55 0.45 0 0 0  0.55 0.45 0 0 0  0 0 0 0 1" result="g"/><feComponentTransfer in="g"><feFuncR type="table" tableValues="0.330 0.330 0.330 0.330 0.330 0.330 0.330 0.338 0.360 0.394 0.436 0.485 0.538 0.592 0.645 0.694 0.736 0.770 0.792 0.800 0.800 0.800 0.800 0.800 0.800 0.800"/><feFuncG type="table" tableValues="0.100 0.100 0.100 0.100 0.100 0.100 0.100 0.108 0.129 0.161 0.202 0.248 0.299 0.351 0.402 0.448 0.489 0.521 0.542 0.550 0.550 0.550 0.550 0.550 0.550 0.550"/><feFuncB type="table" tableValues="0.030 0.030 0.030 0.030 0.030 0.030 0.030 0.032 0.037 0.045 0.055 0.066 0.079 0.091 0.104 0.115 0.125 0.133 0.138 0.140 0.140 0.140 0.140 0.140 0.140 0.140"/></feComponentTransfer></filter></defs>
<rect x="152" y="217.5" width="140.6" height="139.9" fill="#9a5a14"/>
<rect x="152" y="217.5" width="140.6" height="139.9" filter="url(#grain)"/>
<text x="155.8" y="228.9" class="plw">d</text>
<rect x="253.8" y="351.3" width="35.2" height="3.3" fill="#fff"/>
<text x="271.6" y="348.4" text-anchor="middle" class="sb">1 µm</text>
</g>
<defs><linearGradient id="rcbg" x1="0" y1="0" x2="0" y2="1"><stop offset="0" stop-color="#0c520d"/><stop offset="0.58" stop-color="#0e560e"/><stop offset="0.74" stop-color="#062806"/><stop offset="1" stop-color="#021202"/></linearGradient><radialGradient id="rchz"><stop offset="0" stop-color="#2cb02c" stop-opacity="0.6"/><stop offset="1" stop-color="#2cb02c" stop-opacity="0"/></radialGradient><linearGradient id="rcside" x1="0" y1="0" x2="1" y2="0"><stop offset="0" stop-color="#000" stop-opacity="0.45"/><stop offset="0.2" stop-color="#000" stop-opacity="0"/><stop offset="0.8" stop-color="#000" stop-opacity="0"/><stop offset="1" stop-color="#000" stop-opacity="0.45"/></linearGradient><filter id="rcbl" x="-80%" y="-50%" width="260%" height="200%"><feGaussianBlur stdDeviation="1.3"/></filter><filter id="rcbl2" x="-80%" y="-50%" width="260%" height="200%"><feGaussianBlur stdDeviation="0.7"/></filter><clipPath id="rccl"><rect x="88" y="217.7" width="51.4" height="51.6"/></clipPath></defs>
<g clip-path="url(#rccl)">
<rect x="88" y="217.7" width="51.4" height="51.6" fill="url(#rcbg)"/>
<ellipse cx="114" cy="238" rx="30" ry="24" fill="url(#rchz)"/>
<rect x="88" y="217.7" width="51.4" height="51.6" fill="url(#rcside)"/>
<ellipse cx="114.3" cy="237" rx="1.7" ry="4.2" fill="#60ff60" opacity="0.95" filter="url(#rcbl2)"/>
<ellipse cx="114.3" cy="237" rx="0.8" ry="2.6" fill="#d0ffc8" opacity="0.8" filter="url(#rcbl2)"/>
<ellipse cx="108.1" cy="240.8" rx="1.5" ry="3.4" fill="#48f048" opacity="0.85" filter="url(#rcbl2)"/>
<ellipse cx="120.5" cy="240.2" rx="1.5" ry="3.4" fill="#48f048" opacity="0.85" filter="url(#rcbl2)"/>
<ellipse cx="101.9" cy="248" rx="1.3" ry="3.2" fill="#2cb02c" opacity="0.55" filter="url(#rcbl)"/>
<ellipse cx="126.8" cy="247.4" rx="1.3" ry="3.2" fill="#2cb02c" opacity="0.55" filter="url(#rcbl)"/>
<ellipse cx="111.2" cy="260.3" rx="1" ry="1" fill="#50ff50" opacity="0.8" filter="url(#rcbl2)"/>
<circle cx="114.3" cy="265.1" r="4.7" fill="#30e030" opacity="0.75" filter="url(#rcbl)"/>
<circle cx="114.3" cy="265.1" r="3.3" fill="#a8ffa0" filter="url(#rcbl2)"/>
<circle cx="114.3" cy="265.1" r="1.98" fill="#f0fff0" filter="url(#rcbl2)"/>
</g>
<defs><linearGradient id="rdbg" x1="0" y1="0" x2="0" y2="1"><stop offset="0" stop-color="#083c09"/><stop offset="0.58" stop-color="#093e09"/><stop offset="0.75" stop-color="#041e04"/><stop offset="1" stop-color="#021102"/></linearGradient><radialGradient id="rdhz"><stop offset="0" stop-color="#1c801c" stop-opacity="0.5"/><stop offset="1" stop-color="#1c801c" stop-opacity="0"/></radialGradient><linearGradient id="rdside" x1="0" y1="0" x2="1" y2="0"><stop offset="0" stop-color="#000" stop-opacity="0.45"/><stop offset="0.2" stop-color="#000" stop-opacity="0"/><stop offset="0.8" stop-color="#000" stop-opacity="0"/><stop offset="1" stop-color="#000" stop-opacity="0.45"/></linearGradient><filter id="rdbl" x="-80%" y="-50%" width="260%" height="200%"><feGaussianBlur stdDeviation="1.3"/></filter><filter id="rdbl2" x="-80%" y="-50%" width="260%" height="200%"><feGaussianBlur stdDeviation="0.7"/></filter><clipPath id="rdcl"><rect x="239.9" y="217.5" width="52.3" height="52.3"/></clipPath></defs>
<g clip-path="url(#rdcl)">
<rect x="239.9" y="217.5" width="52.3" height="52.3" fill="url(#rdbg)"/>
<ellipse cx="267" cy="238" rx="26" ry="24" fill="url(#rdhz)"/>
<rect x="239.9" y="217.5" width="52.3" height="52.3" fill="url(#rdside)"/>
<path d="M246.5 217V270" stroke="#1a6a1a" stroke-width="1.2" opacity="0.35" filter="url(#rdbl2)"/>
<path d="M253.1 217V262" stroke="#2a9a2a" stroke-width="1.4" opacity="0.45" filter="url(#rdbl2)"/>
<path d="M281.1 217V262" stroke="#2a9a2a" stroke-width="1.4" opacity="0.45" filter="url(#rdbl2)"/>
<path d="M287 217V270" stroke="#1a6a1a" stroke-width="1.2" opacity="0.35" filter="url(#rdbl2)"/>
<ellipse cx="253.1" cy="236.5" rx="1.4" ry="12" fill="#2fb02f" opacity="0.5" filter="url(#rdbl)"/>
<ellipse cx="281.1" cy="235" rx="1.4" ry="12" fill="#2fb02f" opacity="0.5" filter="url(#rdbl)"/>
<ellipse cx="267.1" cy="232" rx="2" ry="9.6" fill="#58ff58" opacity="0.95" filter="url(#rdbl2)"/>
<ellipse cx="267.1" cy="233.5" rx="0.9" ry="5.5" fill="#d8ffd0" opacity="0.85" filter="url(#rdbl2)"/>
<ellipse cx="260.5" cy="236.5" rx="1.6" ry="8.6" fill="#4af04a" opacity="0.9" filter="url(#rdbl2)"/>
<ellipse cx="273.7" cy="239" rx="1.6" ry="6.6" fill="#4af04a" opacity="0.9" filter="url(#rdbl2)"/>
<circle cx="266.8" cy="266.8" r="4.7" fill="#30e030" opacity="0.75" filter="url(#rdbl)"/>
<circle cx="266.8" cy="266.8" r="3.3" fill="#a8ffa0" filter="url(#rdbl2)"/>
<circle cx="266.8" cy="266.8" r="1.98" fill="#f0fff0" filter="url(#rdbl2)"/>
</g>
<g id="panel-a">
<defs><clipPath id="ca"><rect x="44.7" y="6.0" width="232.3" height="166.6"/></clipPath></defs>
<g clip-path="url(#ca)" fill="none" stroke-linejoin="round">
<path d="M144.94 60.39 L145.12 60.32 L145.3 60.09 L145.48 59.73 L145.66 59.23 L145.83 58.62 L146.01 57.89 L146.19 57.08 L146.37 56.2 L146.55 55.28 L146.73 54.33 L146.91 53.38 L147.09 52.46 L147.27 51.58 L147.45 50.77 L147.62 50.04 L147.8 49.43 L147.98 48.93 L148.16 48.57 L148.34 48.34 L148.52 48.27 L148.71 48.34 L148.89 48.55 L149.08 48.9 L149.26 49.37 L149.45 49.96 L149.64 50.64 L149.82 51.41 L150.01 52.25 L150.2 53.13 L150.38 54.03 L150.57 54.93 L150.75 55.81 L150.94 56.64 L151.13 57.41 L151.31 58.1 L151.5 58.68 L151.68 59.16 L151.87 59.5 L152.06 59.71 L152.24 59.78 L152.42 59.72 L152.6 59.52 L152.79 59.2 L152.97 58.76 L153.15 58.22 L153.33 57.59 L153.51 56.88 L153.69 56.13 L153.87 55.34 L154.05 54.54 L154.23 53.75 L154.41 52.99 L154.59 52.28 L154.78 51.65 L154.96 51.11 L155.14 50.67 L155.32 50.35 L155.5 50.15 L155.68 50.09 L155.86 50.13 L156.04 50.25 L156.22 50.44 L156.4 50.71 L156.57 51.04 L156.75 51.43 L156.93 51.88 L157.11 52.38 L157.29 52.91 L157.47 53.47 L157.65 54.04 L157.83 54.62 L158.01 55.19 L158.19 55.75 L158.37 56.28 L158.54 56.78 L158.72 57.23 L158.9 57.62 L159.08 57.95 L159.26 58.22 L159.44 58.41 L159.62 58.53 L159.8 58.57 L159.98 58.53 L160.16 58.42 L160.34 58.24 L160.52 57.99 L160.7 57.68 L160.88 57.32 L161.06 56.92 L161.24 56.48 L161.42 56.02 L161.6 55.54 L161.79 55.07 L161.97 54.61 L162.15 54.17 L162.33 53.76 L162.51 53.4 L162.69 53.09 L162.87 52.84 L163.05 52.66 L163.23 52.55 L163.41 52.51 L163.59 52.57 L163.77 52.73 L163.95 52.99 L164.14 53.35 L164.32 53.81 L164.5 54.34 L164.68 54.94 L164.86 55.59 L165.04 56.28 L165.22 57 L165.4 57.72 L165.58 58.44 L165.76 59.13 L165.94 59.78 L166.12 60.38 L166.3 60.91 L166.48 61.37 L166.67 61.73 L166.85 61.99 L167.03 62.15 L167.21 62.21 L167.39 62.18 L167.58 62.08 L167.76 61.92 L167.95 61.7 L168.13 61.44 L168.31 61.12 L168.5 60.77 L168.68 60.39 L168.87 59.98 L169.05 59.57 L169.24 59.16 L169.42 58.76 L169.6 58.38 L169.79 58.02 L169.97 57.71 L170.16 57.44 L170.34 57.22 L170.53 57.06 L170.71 56.97 L170.89 56.94 L171.08 56.98 L171.26 57.1 L171.44 57.31 L171.62 57.59 L171.81 57.95 L171.99 58.37 L172.17 58.84 L172.35 59.36 L172.54 59.92 L172.72 60.5 L172.9 61.09 L173.08 61.68 L173.26 62.26 L173.45 62.81 L173.63 63.33 L173.81 63.81 L173.99 64.22 L174.18 64.58 L174.36 64.86 L174.54 65.07 L174.72 65.2 L174.9 65.24 L175.09 65.19 L175.28 65.05 L175.46 64.83 L175.65 64.53 L175.83 64.16 L176.02 63.74 L176.2 63.29 L176.39 62.81 L176.58 62.34 L176.76 61.89 L176.95 61.47 L177.13 61.1 L177.32 60.8 L177.5 60.57 L177.69 60.44 L177.88 60.39 L178.06 60.41 L178.23 60.48 L178.41 60.58 L178.59 60.73 L178.77 60.91 L178.95 61.14 L179.13 61.39 L179.31 61.69 L179.49 62.01 L179.67 62.36 L179.84 62.73 L180.02 63.12 L180.2 63.53 L180.38 63.95 L180.56 64.38 L180.74 64.81 L180.92 65.25 L181.1 65.68 L181.28 66.1 L181.46 66.51 L181.63 66.9 L181.81 67.27 L181.99 67.62 L182.17 67.94 L182.35 68.23 L182.53 68.49 L182.71 68.72 L182.89 68.9 L183.07 69.05 L183.25 69.15 L183.43 69.22 L183.6 69.24 L183.79 68.91 L183.97 68.88 L184.16 68.82 L184.34 68.74 L184.53 68.64 L184.72 68.52 L184.9 68.39 L185.09 68.24 L185.27 68.09 L185.46 67.92 L185.64 67.75 L185.83 67.58 L186.01 67.41 L186.2 67.24 L186.38 67.09 L186.57 66.94 L186.75 66.81 L186.94 66.69 L187.12 66.59 L187.31 66.51 L187.49 66.46 L187.68 66.42 L187.86 66.41 L188.06 66.43 L188.25 66.48 L188.44 66.55 L188.63 66.64 L188.82 66.74 L189.01 66.83 L189.2 66.91 L189.39 66.96 L189.58 66.97 L189.77 66.96 L189.96 66.93 L190.15 66.88 L190.33 66.82 L190.52 66.74 L190.71 66.66 L190.9 66.58 L191.09 66.51 L191.27 66.45 L191.46 66.4 L191.65 66.36 L191.84 66.35 L192.02 66.41 L192.2 66.58 L192.38 66.84 L192.55 67.21 L192.73 67.66 L192.91 68.19 L193.09 68.76 L193.27 69.38 L193.45 70.02 L193.63 70.65 L193.81 71.27 L193.99 71.85 L194.17 72.37 L194.34 72.82 L194.52 73.19 L194.7 73.46 L194.88 73.63 L195.06 73.68 L195.24 73.67 L195.42 73.63 L195.6 73.56 L195.78 73.47 L195.95 73.35 L196.13 73.21 L196.31 73.05 L196.49 72.87 L196.67 72.67 L196.85 72.46 L197.03 72.23 L197.21 72 L197.39 71.76 L197.57 71.52 L197.75 71.27 L197.92 71.04 L198.1 70.8 L198.28 70.58 L198.46 70.37 L198.64 70.17 L198.82 69.99 L199 69.82 L199.18 69.68 L199.36 69.57 L199.53 69.47 L199.71 69.41 L199.89 69.37 L200.07 69.35 L200.25 69.39 L200.43 69.48 L200.61 69.65 L200.79 69.87 L200.97 70.14 L201.15 70.46 L201.32 70.83 L201.5 71.22 L201.68 71.63 L201.86 72.05 L202.04 72.47 L202.22 72.88 L202.4 73.27 L202.58 73.63 L202.76 73.96 L202.94 74.23 L203.12 74.45 L203.29 74.61 L203.47 74.71 L203.65 74.75 L203.83 74.72 L204.01 74.65 L204.19 74.54 L204.37 74.39 L204.55 74.2 L204.73 73.98 L204.9 73.75 L205.08 73.5 L205.26 73.25 L205.44 73 L205.62 72.76 L205.8 72.54 L205.98 72.36 L206.16 72.2 L206.34 72.09 L206.52 72.02 L206.69 72 L206.87 72.02 L207.05 72.08 L207.23 72.18 L207.41 72.31 L207.59 72.49 L207.77 72.69 L207.95 72.93 L208.13 73.2 L208.31 73.49 L208.49 73.81 L208.66 74.14 L208.84 74.48 L209.02 74.83 L209.2 75.19 L209.38 75.55 L209.56 75.9 L209.74 76.25 L209.92 76.58 L210.1 76.89 L210.27 77.18 L210.45 77.45 L210.63 77.69 L210.81 77.9 L210.99 78.07 L211.17 78.21 L211.35 78.31 L211.53 78.37 L211.71 78.39 L211.89 78.35 L212.07 78.25 L212.25 78.07 L212.43 77.85 L212.61 77.57 L212.79 77.25 L212.98 76.9 L213.16 76.54 L213.34 76.19 L213.52 75.84 L213.7 75.52 L213.88 75.24 L214.06 75.01 L214.24 74.84 L214.43 74.74 L214.61 74.7 L214.79 74.73 L214.98 74.83 L215.16 74.98 L215.35 75.19 L215.53 75.45 L215.72 75.76 L215.91 76.11 L216.09 76.49 L216.28 76.9 L216.46 77.33 L216.65 77.77 L216.83 78.2 L217.02 78.63 L217.2 79.04 L217.39 79.42 L217.57 79.77 L217.76 80.08 L217.95 80.34 L218.13 80.55 L218.32 80.7 L218.5 80.8 L218.69 80.83 L218.87 80.8 L219.05 80.73 L219.23 80.62 L219.4 80.46 L219.58 80.27 L219.76 80.06 L219.94 79.82 L220.12 79.58 L220.3 79.33 L220.48 79.1 L220.66 78.88 L220.84 78.7 L221.01 78.54 L221.19 78.42 L221.37 78.35 L221.55 78.33 L221.73 78.35 L221.91 78.42 L222.09 78.53 L222.27 78.68 L222.45 78.87 L222.63 79.1 L222.81 79.36 L222.98 79.65 L223.16 79.97 L223.34 80.31 L223.52 80.66 L223.7 81.03 L223.88 81.4 L224.06 81.77 L224.24 82.13 L224.42 82.48 L224.59 82.82 L224.77 83.14 L224.95 83.43 L225.13 83.69 L225.31 83.92 L225.49 84.11 L225.67 84.26 L225.85 84.37 L226.03 84.44 L226.21 84.46 L226.38 84.44 L226.56 84.37 L226.74 84.25 L226.92 84.1 L227.1 83.92 L227.28 83.72 L227.46 83.52 L227.64 83.32 L227.82 83.14 L228 82.99 L228.18 82.88 L228.35 82.8 L228.53 82.78 L228.71 82.8 L228.89 82.85 L229.07 82.93 L229.25 83.05 L229.43 83.19 L229.61 83.37 L229.79 83.57 L229.96 83.79 L230.14 84.04 L230.32 84.31 L230.5 84.59 L230.68 84.89 L230.86 85.19 L231.04 85.5 L231.22 85.81 L231.4 86.12 L231.58 86.43 L231.75 86.72 L231.93 87.01 L232.11 87.27 L232.29 87.52 L232.47 87.75 L232.65 87.95 L232.83 88.12 L233.01 88.27 L233.19 88.39 L233.37 88.47 L233.55 88.52 L233.72 88.54 L233.91 88.52 L234.09 88.46 L234.27 88.36 L234.45 88.23 L234.63 88.08 L234.81 87.91 L235 87.74 L235.18 87.57 L235.36 87.42 L235.54 87.29 L235.72 87.19 L235.91 87.13 L236.09 87.11 L236.27 87.14 L236.46 87.24 L236.64 87.4 L236.83 87.62 L237.01 87.9 L237.2 88.23 L237.39 88.6 L237.57 89 L237.76 89.44 L237.94 89.89 L238.13 90.35 L238.31 90.81 L238.5 91.26 L238.68 91.7 L238.87 92.1 L239.05 92.48 L239.24 92.8 L239.43 93.08 L239.61 93.3 L239.8 93.46 L239.98 93.56 L240.17 93.6 L240.35 93.59 L240.53 93.57 L240.71 93.54 L240.89 93.5 L241.07 93.46 L241.25 93.4 L241.43 93.34 L241.62 93.27 L241.8 93.2 L241.98 93.13 L242.16 93.06 L242.34 92.99 L242.52 92.93 L242.7 92.88 L242.88 92.83 L243.06 92.79 L243.24 92.76 L243.42 92.74 L243.6 92.74 L243.79 92.77 L243.97 92.87 L244.16 93.03 L244.34 93.26 L244.53 93.53 L244.71 93.85 L244.9 94.21 L245.08 94.6 L245.27 95 L245.45 95.4 L245.64 95.8 L245.82 96.19 L246.01 96.55 L246.19 96.87 L246.37 97.14 L246.56 97.37 L246.74 97.53 L246.93 97.63 L247.11 97.66 L247.29 97.66 L247.47 97.66 L247.65 97.65 L247.83 97.65 L248.02 97.64 L248.2 97.62 L248.38 97.61 L248.56 97.6 L248.74 97.58 L248.92 97.57 L249.1 97.55 L249.28 97.53 L249.46 97.51 L249.64 97.49 L249.82 97.48 L250 97.46 L250.18 97.44 L250.36 97.43 L250.54 97.41 L250.72 97.4 L250.9 97.39 L251.08 97.38 L251.26 97.37 L251.44 97.36 L251.62 97.36 L251.8 97.36 L251.98 97.39 L252.16 97.49 L252.34 97.65 L252.52 97.87 L252.7 98.14 L252.88 98.45 L253.06 98.8 L253.24 99.18 L253.41 99.57 L253.59 99.96 L253.77 100.36 L253.95 100.73 L254.13 101.08 L254.31 101.4 L254.49 101.66 L254.67 101.88 L254.85 102.04 L255.02 102.14 L255.2 102.17 L255.38 102.16 L255.56 102.14 L255.74 102.1 L255.92 102.04 L256.1 101.98 L256.28 101.9 L256.46 101.81 L256.64 101.71 L256.81 101.61 L256.99 101.5 L257.17 101.4 L257.35 101.3 L257.53 101.2 L257.71 101.11 L257.89 101.03 L258.07 100.96 L258.25 100.91 L258.43 100.87 L258.61 100.84 L258.78 100.84 L258.96 100.85 L259.14 100.9 L259.32 100.98 L259.5 101.09 L259.68 101.24 L259.86 101.4 L260.04 101.6 L260.22 101.81 L260.39 102.04 L260.57 102.29 L260.75 102.55 L260.93 102.82 L261.11 103.09 L261.29 103.36 L261.47 103.63 L261.65 103.89 L261.83 104.14 L262.01 104.37 L262.19 104.59 L262.36 104.78 L262.54 104.95 L262.72 105.09 L262.9 105.2 L263.08 105.28 L263.26 105.33 L263.44 105.35 L263.62 105.32 L263.8 105.25 L263.97 105.14 L264.15 105 L264.33 104.85 L264.51 104.7 L264.69 104.56 L264.87 104.45 L265.05 104.38 L265.23 104.36" stroke="#c8283a" stroke-width="1.9" opacity="0.85"/>
<path d="M148.52 48.27 L152.24 59.78 L155.68 50.09 L159.8 58.57 L163.41 52.51 L167.21 62.21 L170.89 56.94 L174.9 65.24 L177.88 60.39 L183.6 69.24 L187.86 66.41 L189.58 66.97 L191.84 66.35 L195.06 73.68 L200.07 69.35 L203.65 74.75 L206.69 72 L211.71 78.39 L214.61 74.7 L218.69 80.83 L221.55 78.33 L226.21 84.46 L228.53 82.78 L233.72 88.54 L236.09 87.11 L240.17 93.6 L243.6 92.74 L247.11 97.66 L251.8 97.36 L255.2 102.17 L258.78 100.84 L263.44 105.35 L265.23 104.36 L265.23 172.5" stroke="#141010" stroke-width="1.25"/>
<path d="M50.64 133.72 L50.83 133.51 L51.01 132.9 L51.19 131.9 L51.37 130.53 L51.56 128.83 L51.74 126.85 L51.92 124.62 L52.1 122.2 L52.29 119.66 L52.47 117.05 L52.65 114.44 L52.83 111.9 L53.02 109.49 L53.2 107.26 L53.38 105.27 L53.56 103.57 L53.75 102.2 L53.93 101.2 L54.11 100.59 L54.29 100.39 L54.48 100.72 L54.67 101.72 L54.86 103.36 L55.04 105.6 L55.23 108.39 L55.42 111.68 L55.61 115.38 L55.79 119.42 L55.98 123.71 L56.17 128.14 L56.36 132.62 L56.54 137.06 L56.73 141.34 L56.92 145.38 L57.11 149.09 L57.29 152.37 L57.48 155.17 L57.67 157.41 L57.86 159.05 L58.04 160.04 L58.23 160.38 L58.41 160.22 L58.6 159.75 L58.78 158.98 L58.96 157.91 L59.14 156.57 L59.33 154.99 L59.51 153.2 L59.69 151.22 L59.87 149.09 L60.05 146.86 L60.24 144.57 L60.42 142.25 L60.6 139.96 L60.78 137.73 L60.96 135.61 L61.15 133.63 L61.33 131.83 L61.51 130.25 L61.69 128.91 L61.87 127.85 L62.06 127.07 L62.24 126.6 L62.42 126.44 L62.6 126.62 L62.78 127.13 L62.96 127.95 L63.14 129.02 L63.32 130.26 L63.5 131.59 L63.67 132.93 L63.85 134.17 L64.03 135.24 L64.21 136.06 L64.39 136.57 L64.57 136.75 L64.75 137.04 L64.93 137.79 L65.11 138.73 L65.28 139.49 L65.46 139.78 L65.64 140.3 L65.82 141.85 L66 144.3 L66.18 147.5 L66.36 151.23 L66.54 155.23 L66.72 159.23 L66.9 162.96 L67.08 166.16 L67.25 168.61 L67.43 170.16 L67.61 170.68 L67.79 170.29 L67.97 169.11 L68.15 167.17 L68.33 164.47 L68.51 161.06 L68.69 156.97 L68.87 152.24 L69.04 146.92 L69.22 141.08 L69.4 134.78 L69.58 128.08 L69.76 121.06 L69.94 114.49 L70.12 106.73 L70.3 98.88 L70.48 91.02 L70.66 83.25 L70.83 75.65 L71.01 68.31 L71.19 61.3 L71.37 54.7 L71.55 48.6 L71.73 43.04 L71.91 38.1 L72.09 33.83 L72.27 30.28 L72.44 27.48 L72.62 25.47 L72.8 24.28 L72.98 23.91 L73.16 24.43 L73.34 25.89 L73.52 28.26 L73.7 31.49 L73.88 35.52 L74.06 40.26 L74.23 45.63 L74.41 51.51 L74.59 57.79 L74.77 64.33 L74.95 71 L75.13 77.68 L75.31 84.22 L75.49 90.48 L75.67 96.35 L75.85 101.71 L76.03 106.44 L76.2 110.44 L76.38 113.65 L76.56 115.98 L76.74 117.4 L76.92 117.87 L77.1 117.41 L77.28 116.04 L77.46 113.79 L77.64 110.71 L77.81 106.86 L77.99 102.32 L78.17 97.17 L78.35 91.54 L78.53 85.53 L78.71 79.26 L78.89 72.86 L79.07 66.46 L79.25 60.2 L79.43 54.19 L79.61 48.57 L79.78 43.44 L79.96 38.91 L80.14 35.08 L80.32 32.02 L80.5 29.78 L80.68 28.43 L80.86 27.98 L81.04 28.39 L81.22 29.56 L81.4 31.49 L81.58 34.14 L81.76 37.45 L81.94 41.37 L82.12 45.82 L82.3 50.73 L82.48 55.99 L82.66 61.51 L82.84 67.18 L83.02 72.91 L83.21 78.59 L83.39 84.1 L83.57 89.35 L83.75 94.24 L83.93 98.68 L84.11 102.58 L84.29 105.88 L84.47 108.5 L84.65 110.41 L84.83 111.57 L85.01 111.95 L85.19 111.55 L85.37 110.39 L85.55 108.5 L85.73 105.9 L85.91 102.66 L86.09 98.84 L86.28 94.52 L86.46 89.78 L86.64 84.72 L86.82 79.45 L87 74.07 L87.18 68.7 L87.36 63.43 L87.54 58.39 L87.72 53.67 L87.9 49.36 L88.08 45.57 L88.26 42.35 L88.44 39.79 L88.62 37.93 L88.8 36.81 L88.98 36.45 L89.17 36.8 L89.36 37.78 L89.54 39.36 L89.73 41.52 L89.91 44.2 L90.1 47.34 L90.29 50.88 L90.47 54.74 L90.66 58.83 L90.84 63.06 L91.03 67.33 L91.21 71.56 L91.4 75.63 L91.59 79.48 L91.77 83 L91.96 86.13 L92.14 88.78 L92.33 90.91 L92.52 92.46 L92.7 93.4 L92.89 93.71 L93.07 93.38 L93.25 92.44 L93.43 90.89 L93.61 88.78 L93.79 86.16 L93.97 83.09 L94.15 79.66 L94.33 75.94 L94.51 72.02 L94.69 68.01 L94.88 64 L95.06 60.1 L95.24 56.39 L95.42 52.96 L95.6 49.92 L95.78 47.32 L95.96 45.23 L96.14 43.71 L96.32 42.79 L96.5 42.49 L96.68 42.74 L96.86 43.45 L97.04 44.58 L97.22 46.12 L97.4 48.04 L97.58 50.27 L97.76 52.77 L97.93 55.48 L98.11 58.32 L98.29 61.24 L98.47 64.16 L98.65 67 L98.83 69.7 L99.01 72.19 L99.19 74.41 L99.37 76.3 L99.55 77.83 L99.72 78.94 L99.9 79.62 L100.08 79.85 L100.26 79.62 L100.44 78.95 L100.62 77.85 L100.81 76.34 L100.99 74.47 L101.17 72.28 L101.35 69.82 L101.53 67.16 L101.71 64.36 L101.89 61.49 L102.07 58.62 L102.25 55.83 L102.43 53.17 L102.61 50.72 L102.79 48.54 L102.98 46.68 L103.16 45.19 L103.34 44.1 L103.52 43.44 L103.7 43.23 L103.88 43.41 L104.06 43.92 L104.24 44.75 L104.42 45.87 L104.6 47.26 L104.78 48.88 L104.96 50.7 L105.14 52.67 L105.33 54.74 L105.51 56.86 L105.69 58.98 L105.87 61.04 L106.05 63.01 L106.23 64.82 L106.41 66.43 L106.59 67.81 L106.77 68.92 L106.95 69.73 L107.13 70.23 L107.31 70.4 L107.49 70.26 L107.68 69.83 L107.86 69.12 L108.04 68.14 L108.22 66.93 L108.4 65.49 L108.58 63.86 L108.76 62.08 L108.94 60.17 L109.12 58.19 L109.3 56.16 L109.48 54.13 L109.66 52.15 L109.84 50.25 L110.02 48.47 L110.2 46.84 L110.38 45.41 L110.57 44.2 L110.75 43.23 L110.93 42.52 L111.11 42.1 L111.29 41.96 L111.47 42.11 L111.66 42.56 L111.85 43.29 L112.03 44.28 L112.22 45.51 L112.4 46.95 L112.59 48.56 L112.78 50.3 L112.96 52.14 L113.15 54.02 L113.34 55.9 L113.52 57.74 L113.71 59.48 L113.89 61.09 L114.08 62.52 L114.27 63.75 L114.45 64.74 L114.64 65.46 L114.83 65.9 L115.01 66.05 L115.19 65.91 L115.37 65.51 L115.55 64.84 L115.73 63.93 L115.91 62.8 L116.1 61.46 L116.28 59.96 L116.46 58.32 L116.64 56.58 L116.82 54.78 L117 52.96 L117.18 51.16 L117.36 49.42 L117.54 47.78 L117.72 46.27 L117.9 44.94 L118.08 43.81 L118.26 42.9 L118.44 42.24 L118.63 41.83 L118.81 41.7 L118.98 41.86 L119.16 42.32 L119.34 43.07 L119.52 44.08 L119.7 45.34 L119.88 46.8 L120.06 48.43 L120.24 50.19 L120.42 52.02 L120.6 53.87 L120.78 55.7 L120.95 57.45 L121.13 59.08 L121.31 60.54 L121.49 61.79 L121.67 62.8 L121.85 63.54 L122.03 64 L122.21 64.15 L122.39 64.04 L122.57 63.73 L122.75 63.22 L122.94 62.51 L123.12 61.64 L123.3 60.6 L123.48 59.43 L123.67 58.15 L123.85 56.78 L124.03 55.35 L124.21 53.89 L124.39 52.43 L124.58 51.01 L124.76 49.64 L124.94 48.36 L125.12 47.19 L125.31 46.16 L125.49 45.29 L125.67 44.59 L125.85 44.09 L126.03 43.78 L126.22 43.68 L126.4 43.8 L126.57 44.15 L126.75 44.73 L126.93 45.51 L127.11 46.49 L127.29 47.63 L127.47 48.92 L127.65 50.3 L127.83 51.77 L128.01 53.26 L128.19 54.76 L128.36 56.22 L128.54 57.61 L128.72 58.89 L128.9 60.04 L129.08 61.01 L129.26 61.79 L129.44 62.37 L129.62 62.72 L129.8 62.84 L129.98 62.73 L130.17 62.43 L130.35 61.93 L130.54 61.25 L130.73 60.4 L130.91 59.41 L131.1 58.28 L131.28 57.06 L131.47 55.76 L131.65 54.42 L131.84 53.06 L132.03 51.72 L132.21 50.42 L132.4 49.2 L132.58 48.08 L132.77 47.08 L132.96 46.24 L133.14 45.56 L133.33 45.07 L133.51 44.77 L133.7 44.67 L133.88 44.76 L134.07 45.06 L134.26 45.53 L134.44 46.19 L134.63 47 L134.81 47.96 L135 49.04 L135.19 50.22 L135.37 51.47 L135.56 52.77 L135.74 54.07 L135.93 55.37 L136.11 56.62 L136.3 57.79 L136.49 58.87 L136.67 59.83 L136.86 60.65 L137.04 61.3 L137.23 61.78 L137.42 62.06 L137.6 62.16 L137.79 62.06 L137.97 61.76 L138.15 61.27 L138.34 60.6 L138.52 59.77 L138.71 58.8 L138.89 57.72 L139.08 56.54 L139.26 55.3 L139.44 54.03 L139.63 52.76 L139.81 51.52 L140 50.34 L140.18 49.26 L140.37 48.29 L140.55 47.46 L140.74 46.8 L140.92 46.31 L141.1 46.02 L141.29 45.92 L141.47 46.01 L141.65 46.29 L141.84 46.74 L142.02 47.36 L142.2 48.12 L142.38 49.01 L142.57 50.01 L142.75 51.1 L142.93 52.24 L143.11 53.41 L143.3 54.58 L143.48 55.72 L143.66 56.81 L143.84 57.8 L144.03 58.7 L144.21 59.46 L144.39 60.07 L144.57 60.51 L144.76 60.78 L144.94 60.87 L145.12 60.79 L145.3 60.55 L145.48 60.15 L145.66 59.62 L145.83 58.95 L146.01 58.17 L146.19 57.3 L146.37 56.36 L146.55 55.36 L146.73 54.34 L146.91 53.32 L147.09 52.33 L147.27 51.39 L147.45 50.51 L147.62 49.74 L147.8 49.08 L147.98 48.54 L148.16 48.15 L148.34 47.91 L148.52 47.84 L148.71 47.91 L148.89 48.14 L149.08 48.51 L149.26 49.02 L149.45 49.65 L149.64 50.39 L149.82 51.21 L150.01 52.11 L150.2 53.05 L150.38 54.02 L150.57 54.99 L150.75 55.93 L150.94 56.82 L151.13 57.65 L151.31 58.38 L151.5 59.01 L151.68 59.52 L151.87 59.88 L152.06 60.11 L152.24 60.18 L152.42 60.11 L152.6 59.89 L152.79 59.54 L152.97 59.07 L153.15 58.49 L153.33 57.81 L153.51 57.05" stroke="#111" stroke-width="1.2"/>
<path d="M50.64 133.72 L50.83 133.51 L51.01 132.9 L51.19 131.9 L51.37 130.53 L51.56 128.83 L51.74 126.85 L51.92 124.62 L52.1 122.2 L52.29 119.66 L52.47 117.05 L52.65 114.44 L52.83 111.9 L53.02 109.49 L53.2 107.26 L53.38 105.27 L53.56 103.57 L53.75 102.2 L53.93 101.2 L54.11 100.59 L54.29 100.39 L54.48 100.72 L54.67 101.72 L54.86 103.36 L55.04 105.6 L55.23 108.39 L55.42 111.68 L55.61 115.38 L55.79 119.42 L55.98 123.71 L56.17 128.14 L56.36 132.62 L56.54 137.06 L56.73 141.34 L56.92 145.38 L57.11 149.09 L57.29 152.37 L57.48 155.17 L57.67 157.41 L57.86 159.05 L58.04 160.04 L58.23 160.38 L58.41 160.22 L58.6 159.75 L58.78 158.98 L58.96 157.91 L59.14 156.57 L59.33 154.99 L59.51 153.2 L59.69 151.22 L59.87 149.09 L60.05 146.86 L60.24 144.57 L60.42 142.25 L60.6 139.96 L60.78 137.73 L60.96 135.61 L61.15 133.63 L61.33 131.83 L61.51 130.25 L61.69 128.91 L61.87 127.85 L62.06 127.07 L62.24 126.6 L62.42 126.44 L62.6 126.62 L62.78 127.13 L62.96 127.95 L63.14 129.02 L63.32 130.26 L63.5 131.59 L63.67 132.93 L63.85 134.17 L64.03 135.24 L64.21 136.06 L64.39 136.57 L64.57 136.75 L64.75 137.04 L64.93 137.79 L65.11 138.73 L65.28 139.49 L65.46 139.78 L65.64 140.3 L65.82 141.85 L66 144.3 L66.18 147.5 L66.36 151.23 L66.54 155.23 L66.72 159.23 L66.9 162.96 L67.08 166.16 L67.25 168.61 L67.43 170.16 L67.61 170.68 L67.79 170.29 L67.97 169.11 L68.15 167.17 L68.33 164.47 L68.51 161.06 L68.69 156.97 L68.87 152.24 L69.04 146.92 L69.22 141.08 L69.4 134.78 L69.58 128.08 L69.76 121.06 L69.94 113.8 L70.12 106.38 L70.3 98.87 L70.48 91.36 L70.66 83.94 L70.83 76.68 L71.01 69.66 L71.19 62.97 L71.37 56.66 L71.55 50.82 L71.73 45.51 L71.91 40.77 L72.09 36.68 L72.27 33.27 L72.44 30.57 L72.62 28.63 L72.8 27.45 L72.98 27.06 L73.16 27.51 L73.34 28.84 L73.52 31.03 L73.7 34.03 L73.88 37.79 L74.06 42.22 L74.23 47.24 L74.41 52.74 L74.59 58.62 L74.77 64.74 L74.95 71 L75.13 77.25 L75.31 83.37 L75.49 89.25 L75.67 94.75 L75.85 99.77 L76.03 104.2 L76.2 107.96 L76.38 110.96 L76.56 113.15 L76.74 114.48 L76.92 114.93 L77.1 114.5 L77.28 113.22 L77.46 111.12 L77.64 108.24 L77.81 104.64 L77.99 100.39 L78.17 95.58 L78.35 90.31 L78.53 84.68 L78.71 78.81 L78.89 72.81 L79.07 66.82 L79.25 60.95 L79.43 55.32 L79.61 50.04 L79.78 45.23 L79.96 40.98 L80.14 37.38 L80.32 34.5 L80.5 32.4 L80.68 31.12 L80.86 30.7 L81.04 31.06 L81.22 32.16 L81.4 33.96 L81.58 36.43 L81.76 39.53 L81.94 43.2 L82.12 47.37 L82.3 51.96 L82.48 56.9 L82.66 62.07 L82.84 67.4 L83.02 72.77 L83.21 78.1 L83.39 83.28 L83.57 88.21 L83.75 92.8 L83.93 96.97 L84.11 100.64 L84.29 103.74 L84.47 106.21 L84.65 108.02 L84.83 109.11 L85.01 109.48 L85.19 109.12 L85.37 108.04 L85.55 106.27 L85.73 103.85 L85.91 100.82 L86.09 97.24 L86.28 93.19 L86.46 88.75 L86.64 84.01 L86.82 79.07 L87 74.03 L87.18 68.98 L87.36 64.04 L87.54 59.3 L87.72 54.86 L87.9 50.81 L88.08 47.23 L88.26 44.2 L88.44 41.78 L88.62 40.01 L88.8 38.93 L88.98 38.57 L89.17 38.87 L89.36 39.76 L89.54 41.21 L89.73 43.21 L89.91 45.69 L90.1 48.61 L90.29 51.91 L90.47 55.5 L90.66 59.3 L90.84 63.25 L91.03 67.23 L91.21 71.17 L91.4 74.98 L91.59 78.57 L91.77 81.86 L91.96 84.78 L92.14 87.27 L92.33 89.26 L92.52 90.72 L92.7 91.6 L92.89 91.9 L93.07 91.61 L93.25 90.73 L93.43 89.29 L93.61 87.33 L93.79 84.89 L93.97 82.03 L94.15 78.83 L94.33 75.36 L94.51 71.71 L94.69 67.97 L94.88 64.22 L95.06 60.57 L95.24 57.1 L95.42 53.9 L95.6 51.04 L95.78 48.6 L95.96 46.64 L96.14 45.2 L96.32 44.32 L96.5 44.03 L96.68 44.24 L96.86 44.87 L97.04 45.91 L97.22 47.33 L97.4 49.09 L97.58 51.15 L97.76 53.46 L97.93 55.96 L98.11 58.6 L98.29 61.3 L98.47 64 L98.65 66.64 L98.83 69.14 L99.01 71.45 L99.19 73.51 L99.37 75.27 L99.55 76.69 L99.72 77.72 L99.9 78.36 L100.08 78.57 L100.26 78.36 L100.44 77.73 L100.62 76.7 L100.81 75.3 L100.99 73.56 L101.17 71.51 L101.35 69.22 L101.53 66.74 L101.71 64.13 L101.89 61.45 L102.07 58.77 L102.25 56.16 L102.43 53.68 L102.61 51.39 L102.79 49.35 L102.98 47.6 L103.16 46.2 L103.34 45.17 L103.52 44.54 L103.7 44.33 L103.88 44.49 L104.06 44.95 L104.24 45.7 L104.42 46.73 L104.6 48.01 L104.78 49.51 L104.96 51.2 L105.14 53.02 L105.33 54.94 L105.51 56.91 L105.69 58.87 L105.87 60.79 L106.05 62.61 L106.23 64.3 L106.41 65.8 L106.59 67.08 L106.77 68.11 L106.95 68.86 L107.13 69.33 L107.31 69.48 L107.49 69.34 L107.68 68.94 L107.86 68.28 L108.04 67.36 L108.22 66.22 L108.4 64.88 L108.58 63.36 L108.76 61.69 L108.94 59.9 L109.12 58.05 L109.3 56.15 L109.48 54.25 L109.66 52.39 L109.84 50.61 L110.02 48.94 L110.2 47.42 L110.38 46.07 L110.57 44.93 L110.75 44.02 L110.93 43.36 L111.11 42.95 L111.29 42.82 L111.47 42.95 L111.66 43.36 L111.85 44.04 L112.03 44.96 L112.22 46.1 L112.4 47.44 L112.59 48.94 L112.78 50.56 L112.96 52.27 L113.15 54.03 L113.34 55.78 L113.52 57.49 L113.71 59.12 L113.89 60.62 L114.08 61.95 L114.27 63.1 L114.45 64.02 L114.64 64.69 L114.83 65.1 L115.01 65.24 L115.19 65.11 L115.37 64.73 L115.55 64.11 L115.73 63.26 L115.91 62.2 L116.1 60.96 L116.28 59.56 L116.46 58.03 L116.64 56.4 L116.82 54.72 L117 53.03 L117.18 51.35 L117.36 49.72 L117.54 48.19 L117.72 46.79 L117.9 45.55 L118.08 44.49 L118.26 43.64 L118.44 43.02 L118.63 42.64 L118.81 42.51 L118.98 42.66 L119.16 43.08 L119.34 43.77 L119.52 44.72 L119.7 45.89 L119.88 47.25 L120.06 48.77 L120.24 50.4 L120.42 52.1 L120.6 53.83 L120.78 55.53 L120.95 57.17 L121.13 58.68 L121.31 60.05 L121.49 61.22 L121.67 62.16 L121.85 62.85 L122.03 63.28 L122.21 63.42 L122.39 63.32 L122.57 63.03 L122.75 62.56 L122.94 61.9 L123.12 61.09 L123.3 60.13 L123.48 59.04 L123.67 57.84 L123.85 56.56 L124.03 55.23 L124.21 53.88 L124.39 52.52 L124.58 51.19 L124.76 49.91 L124.94 48.72 L125.12 47.63 L125.31 46.66 L125.49 45.85 L125.67 45.19 L125.85 44.72 L126.03 44.43 L126.22 44.33 L126.4 44.44 L126.57 44.77 L126.75 45.31 L126.93 46.04 L127.11 46.95 L127.29 48.02 L127.47 49.21 L127.65 50.51 L127.83 51.87 L128.01 53.27 L128.19 54.67 L128.36 56.03 L128.54 57.33 L128.72 58.52 L128.9 59.59 L129.08 60.5 L129.26 61.23 L129.44 61.77 L129.62 62.1 L129.8 62.21 L129.98 62.11 L130.17 61.83 L130.35 61.37 L130.54 60.73 L130.73 59.94 L130.91 59.01 L131.1 57.97 L131.28 56.82 L131.47 55.61 L131.65 54.36 L131.84 53.09 L132.03 51.84 L132.21 50.62 L132.4 49.48 L132.58 48.43 L132.77 47.5 L132.96 46.71 L133.14 46.08 L133.33 45.62 L133.51 45.33 L133.7 45.24 L133.88 45.33 L134.07 45.6 L134.26 46.05 L134.44 46.66 L134.63 47.42 L134.81 48.32 L135 49.33 L135.19 50.43 L135.37 51.6 L135.56 52.81 L135.74 54.03 L135.93 55.24 L136.11 56.41 L136.3 57.51 L136.49 58.52 L136.67 59.42 L136.86 60.18 L137.04 60.79 L137.23 61.24 L137.42 61.51 L137.6 61.6 L137.79 61.51 L137.97 61.23 L138.15 60.78 L138.34 60.16 L138.52 59.38 L138.71 58.48 L138.89 57.47 L139.08 56.37 L139.26 55.21 L139.44 54.03 L139.63 52.84 L139.81 51.69 L140 50.59 L140.18 49.57 L140.37 48.67 L140.55 47.9 L140.74 47.28 L140.92 46.82 L141.1 46.55 L141.29 46.45 L141.47 46.54 L141.65 46.79 L141.84 47.21 L142.02 47.78 L142.2 48.49 L142.38 49.32 L142.57 50.26 L142.75 51.27 L142.93 52.33 L143.11 53.42 L143.3 54.51 L143.48 55.57 L143.66 56.58 L143.84 57.52 L144.03 58.35 L144.21 59.06 L144.39 59.63 L144.57 60.05 L144.76 60.3 L144.94 60.39 L145.12 60.32 L145.3 60.09 L145.48 59.73 L145.66 59.23 L145.83 58.62 L146.01 57.89 L146.19 57.08 L146.37 56.2 L146.55 55.28 L146.73 54.33 L146.91 53.38 L147.09 52.46 L147.27 51.58 L147.45 50.77 L147.62 50.04 L147.8 49.43 L147.98 48.93 L148.16 48.57 L148.34 48.34 L148.52 48.27 L148.71 48.34 L148.89 48.55 L149.08 48.9 L149.26 49.37 L149.45 49.96 L149.64 50.64 L149.82 51.41 L150.01 52.25 L150.2 53.13 L150.38 54.03 L150.57 54.93 L150.75 55.81 L150.94 56.64 L151.13 57.41 L151.31 58.1" stroke="#d42a38" stroke-width="1.6" opacity="0.78"/>
<path d="M44.7 74.93 L45.77 75.54 L47.21 74.33 L48.49 72.21 L49.35 74.03 L50.57 73.72 L50.64 133.72" stroke="#111" stroke-width="1.3"/>
</g>
<path d="M44.7 172.5L41.7 172.5 M277 172.5L274 172.5 M44.7 142.2L41.7 142.2 M277 142.2L274 142.2 M44.7 111.9L41.7 111.9 M277 111.9L274 111.9 M44.7 81.6L41.7 81.6 M277 81.6L274 81.6 M44.7 51.3L41.7 51.3 M277 51.3L274 51.3 M44.7 21L41.7 21 M277 21L274 21 M44.7 157.35L43.1 157.35 M277 157.35L275.4 157.35 M44.7 127.05L43.1 127.05 M277 127.05L275.4 127.05 M44.7 96.75L43.1 96.75 M277 96.75L275.4 96.75 M44.7 66.45L43.1 66.45 M277 66.45L275.4 66.45 M44.7 36.15L43.1 36.15 M277 36.15L275.4 36.15 M44.7 172.6L44.7 175.6 M44.7 6L44.7 9 M51.86 172.6L51.86 174.2 M51.86 6L51.86 7.6 M59.02 172.6L59.02 174.2 M59.02 6L59.02 7.6 M66.18 172.6L66.18 174.2 M66.18 6L66.18 7.6 M73.34 172.6L73.34 174.2 M73.34 6L73.34 7.6 M80.5 172.6L80.5 175.6 M80.5 6L80.5 9 M87.66 172.6L87.66 174.2 M87.66 6L87.66 7.6 M94.82 172.6L94.82 174.2 M94.82 6L94.82 7.6 M101.98 172.6L101.98 174.2 M101.98 6L101.98 7.6 M109.14 172.6L109.14 174.2 M109.14 6L109.14 7.6 M116.3 172.6L116.3 175.6 M116.3 6L116.3 9 M123.46 172.6L123.46 174.2 M123.46 6L123.46 7.6 M130.62 172.6L130.62 174.2 M130.62 6L130.62 7.6 M137.78 172.6L137.78 174.2 M137.78 6L137.78 7.6 M144.94 172.6L144.94 174.2 M144.94 6L144.94 7.6 M152.1 172.6L152.1 175.6 M152.1 6L152.1 9 M159.26 172.6L159.26 174.2 M159.26 6L159.26 7.6 M166.42 172.6L166.42 174.2 M166.42 6L166.42 7.6 M173.58 172.6L173.58 174.2 M173.58 6L173.58 7.6 M180.74 172.6L180.74 174.2 M180.74 6L180.74 7.6 M187.9 172.6L187.9 175.6 M187.9 6L187.9 9 M195.06 172.6L195.06 174.2 M195.06 6L195.06 7.6 M202.22 172.6L202.22 174.2 M202.22 6L202.22 7.6 M209.38 172.6L209.38 174.2 M209.38 6L209.38 7.6 M216.54 172.6L216.54 174.2 M216.54 6L216.54 7.6 M223.7 172.6L223.7 175.6 M223.7 6L223.7 9 M230.86 172.6L230.86 174.2 M230.86 6L230.86 7.6 M238.02 172.6L238.02 174.2 M238.02 6L238.02 7.6 M245.18 172.6L245.18 174.2 M245.18 6L245.18 7.6 M252.34 172.6L252.34 174.2 M252.34 6L252.34 7.6 M259.5 172.6L259.5 175.6 M259.5 6L259.5 9 M266.66 172.6L266.66 174.2 M266.66 6L266.66 7.6 M273.82 172.6L273.82 174.2 M273.82 6L273.82 7.6" stroke="#000" stroke-width="0.9"/>
<rect x="44.7" y="6" width="232.3" height="166.6" fill="none" stroke="#000" stroke-width="1.2"/>
<text x="39.2" y="176.5" text-anchor="end" class="tl">0</text>
<text x="39.2" y="146.1" text-anchor="end" class="tl">5</text>
<text x="39.2" y="115.7" text-anchor="end" class="tl">10</text>
<text x="39.2" y="85.3" text-anchor="end" class="tl">15</text>
<text x="39.2" y="54.9" text-anchor="end" class="tl">20</text>
<text x="39.2" y="24.5" text-anchor="end" class="tl">25</text>
<text x="44.7" y="189" text-anchor="middle" class="tl">0</text>
<text x="80.5" y="189" text-anchor="middle" class="tl">100</text>
<text x="116.3" y="189" text-anchor="middle" class="tl">200</text>
<text x="152.1" y="189" text-anchor="middle" class="tl">300</text>
<text x="187.9" y="189" text-anchor="middle" class="tl">400</text>
<text x="223.7" y="189" text-anchor="middle" class="tl">500</text>
<text x="259.5" y="189" text-anchor="middle" class="tl">600</text>
<text x="161" y="203.3" text-anchor="middle" class="at">Time (s)</text>
<text transform="translate(16.9 97.2) rotate(-90)" text-anchor="middle" class="at">RHEED Intensity (a. u.)</text>
<text x="3.6" y="13.5" class="pl">a</text>
<rect x="214.6" y="141.5" width="45" height="23" fill="#fff" stroke="#666" stroke-width="0.9"/>
<path d="M218.2 147.9H236" stroke="#000" stroke-width="0.9"/>
<path d="M218.2 158H236" stroke="#e68080" stroke-width="1.1"/>
<text x="238.4" y="150.9" class="lg">Data</text>
<text x="238.4" y="160.5" class="lg">Fit</text>
<rect x="47.6" y="9.8" width="30.5" height="16.4" fill="#fff" stroke="#555" stroke-width="0.9"/>
<text x="62.6" y="21.1" text-anchor="middle" class="an">Start</text>
<path d="M63.3 26.2L51.9 72.8M49.4 68.2L51.8 73.6L54.6 68.9" fill="none" stroke="#222" stroke-width="0.8"/>
<rect x="233.4" y="40.6" width="30.2" height="16.5" fill="#fff" stroke="#555" stroke-width="0.9"/>
<text x="248.4" y="51.8" text-anchor="middle" class="an">Stop</text>
<path d="M248.3 57.3L263.3 98M259.6 94.9L263.6 98.8L264.3 93.4" fill="none" stroke="#222" stroke-width="0.8"/>
</g>
<g id="panel-b">
<path d="M344.22 23.76 L349.93 136.92 L355.64 42.12 L361.35 30.44 L367.06 34.61 L372.77 38.78 L378.48 42.95 L384.19 35.86 L389.9 41.7 L395.61 38.78 L401.32 47.96 L407.03 36.28 L412.74 36.69 L418.45 42.95 L424.16 41.7 L429.87 46.29 L435.58 38.78 L441.29 49.63 L447 67.15 L452.71 30.85 L458.42 36.69 L464.13 40.45 L469.84 40.45 L475.55 42.12 L481.26 61.31 L486.97 19.59 L492.68 55.89 L498.39 37.11" fill="none" stroke="#333" stroke-width="0.8"/>
<path d="M344.22 21.26L344.22 26.26 M342.02 21.26L346.42 21.26 M342.02 26.26L346.42 26.26 M349.93 134.41L349.93 139.42 M347.73 134.41L352.13 134.41 M347.73 139.42L352.13 139.42 M355.64 39.61L355.64 44.62 M353.44 39.61L357.84 39.61 M353.44 44.62L357.84 44.62 M367.06 32.1L367.06 37.11 M364.86 32.1L369.26 32.1 M364.86 37.11L369.26 37.11 M372.77 36.28L372.77 41.28 M370.57 36.28L374.97 36.28 M370.57 41.28L374.97 41.28 M378.48 40.45L378.48 45.46 M376.28 40.45L380.68 40.45 M376.28 45.46L380.68 45.46 M384.19 33.36L384.19 38.36 M381.99 33.36L386.39 33.36 M381.99 38.36L386.39 38.36 M389.9 39.2L389.9 44.2 M387.7 39.2L392.1 39.2 M387.7 44.2L392.1 44.2 M395.61 36.28L395.61 41.28 M393.41 36.28L397.81 36.28 M393.41 41.28L397.81 41.28 M401.32 45.46L401.32 50.46 M399.12 45.46L403.52 45.46 M399.12 50.46L403.52 50.46 M407.03 33.77L407.03 38.78 M404.83 33.77L409.23 33.77 M404.83 38.78L409.23 38.78 M412.74 34.19L412.74 39.2 M410.54 34.19L414.94 34.19 M410.54 39.2L414.94 39.2 M418.45 40.45L418.45 45.46 M416.25 40.45L420.65 40.45 M416.25 45.46L420.65 45.46 M424.16 39.2L424.16 44.2 M421.96 39.2L426.36 39.2 M421.96 44.2L426.36 44.2 M429.87 43.79L429.87 48.79 M427.67 43.79L432.07 43.79 M427.67 48.79L432.07 48.79 M435.58 36.28L435.58 41.28 M433.38 36.28L437.78 36.28 M433.38 41.28L437.78 41.28 M441.29 45.04L441.29 54.22 M439.09 45.04L443.49 45.04 M439.09 54.22L443.49 54.22 M447 62.15L447 72.16 M444.8 62.15L449.2 62.15 M444.8 72.16L449.2 72.16 M452.71 27.93L452.71 33.77 M450.51 27.93L454.91 27.93 M450.51 33.77L454.91 33.77 M458.42 34.19L458.42 39.2 M456.22 34.19L460.62 34.19 M456.22 39.2L460.62 39.2 M464.13 37.53L464.13 43.37 M461.93 37.53L466.33 37.53 M461.93 43.37L466.33 43.37 M469.84 35.44L469.84 45.46 M467.64 35.44L472.04 35.44 M467.64 45.46L472.04 45.46 M475.55 34.61L475.55 49.63 M473.35 34.61L477.75 34.61 M473.35 49.63L477.75 49.63 M481.26 52.13L481.26 70.49 M479.06 52.13L483.46 52.13 M479.06 70.49L483.46 70.49 M486.97 9.57L486.97 29.6 M484.77 9.57L489.17 9.57 M484.77 29.6L489.17 29.6 M492.68 45.46L492.68 66.32 M490.48 45.46L494.88 45.46 M490.48 66.32L494.88 66.32 M498.39 27.51L498.39 46.71 M496.19 27.51L500.59 27.51 M496.19 46.71L500.59 46.71" stroke="#222" stroke-width="0.8"/>
<rect x="342.42" y="21.96" width="3.6" height="3.6" fill="#000"/>
<rect x="348.13" y="135.12" width="3.6" height="3.6" fill="#000"/>
<rect x="353.84" y="40.32" width="3.6" height="3.6" fill="#000"/>
<circle cx="361.35" cy="30.44" r="2.1" fill="#000"/>
<rect x="365.26" y="32.81" width="3.6" height="3.6" fill="#000"/>
<rect x="370.97" y="36.98" width="3.6" height="3.6" fill="#000"/>
<rect x="376.68" y="41.15" width="3.6" height="3.6" fill="#000"/>
<rect x="382.39" y="34.06" width="3.6" height="3.6" fill="#000"/>
<rect x="388.1" y="39.9" width="3.6" height="3.6" fill="#000"/>
<rect x="393.81" y="36.98" width="3.6" height="3.6" fill="#000"/>
<rect x="399.52" y="46.16" width="3.6" height="3.6" fill="#000"/>
<rect x="405.23" y="34.48" width="3.6" height="3.6" fill="#000"/>
<rect x="410.94" y="34.89" width="3.6" height="3.6" fill="#000"/>
<rect x="416.65" y="41.15" width="3.6" height="3.6" fill="#000"/>
<rect x="422.36" y="39.9" width="3.6" height="3.6" fill="#000"/>
<rect x="428.07" y="44.49" width="3.6" height="3.6" fill="#000"/>
<rect x="433.78" y="36.98" width="3.6" height="3.6" fill="#000"/>
<rect x="439.49" y="47.83" width="3.6" height="3.6" fill="#000"/>
<rect x="445.2" y="65.35" width="3.6" height="3.6" fill="#000"/>
<rect x="450.91" y="29.05" width="3.6" height="3.6" fill="#000"/>
<rect x="456.62" y="34.89" width="3.6" height="3.6" fill="#000"/>
<rect x="462.33" y="38.65" width="3.6" height="3.6" fill="#000"/>
<rect x="468.04" y="38.65" width="3.6" height="3.6" fill="#000"/>
<rect x="473.75" y="40.32" width="3.6" height="3.6" fill="#000"/>
<rect x="479.46" y="59.51" width="3.6" height="3.6" fill="#000"/>
<rect x="485.17" y="17.79" width="3.6" height="3.6" fill="#000"/>
<rect x="490.88" y="54.09" width="3.6" height="3.6" fill="#000"/>
<rect x="496.59" y="35.31" width="3.6" height="3.6" fill="#000"/>
<path d="M332.8 172.3L329.8 172.3 M516.6 172.3L513.6 172.3 M332.8 151.44L331.2 151.44 M516.6 151.44L515 151.44 M332.8 130.58L329.8 130.58 M516.6 130.58L513.6 130.58 M332.8 109.71L331.2 109.71 M516.6 109.71L515 109.71 M332.8 88.85L329.8 88.85 M516.6 88.85L513.6 88.85 M332.8 67.99L331.2 67.99 M516.6 67.99L515 67.99 M332.8 47.12L329.8 47.12 M516.6 47.12L513.6 47.12 M332.8 26.26L331.2 26.26 M516.6 26.26L515 26.26 M332.8 5.4L329.8 5.4 M516.6 5.4L513.6 5.4 M332.8 172.3L332.8 175.3 M332.8 5.3L332.8 8.3 M347.07 172.3L347.07 173.9 M347.07 5.3L347.07 6.9 M361.35 172.3L361.35 175.3 M361.35 5.3L361.35 8.3 M375.62 172.3L375.62 173.9 M375.62 5.3L375.62 6.9 M389.9 172.3L389.9 175.3 M389.9 5.3L389.9 8.3 M404.18 172.3L404.18 173.9 M404.18 5.3L404.18 6.9 M418.45 172.3L418.45 175.3 M418.45 5.3L418.45 8.3 M432.73 172.3L432.73 173.9 M432.73 5.3L432.73 6.9 M447 172.3L447 175.3 M447 5.3L447 8.3 M461.27 172.3L461.27 173.9 M461.27 5.3L461.27 6.9 M475.55 172.3L475.55 175.3 M475.55 5.3L475.55 8.3 M489.83 172.3L489.83 173.9 M489.83 5.3L489.83 6.9 M504.1 172.3L504.1 175.3 M504.1 5.3L504.1 8.3 M518.38 172.3L518.38 173.9 M518.38 5.3L518.38 6.9" stroke="#000" stroke-width="0.9"/>
<rect x="332.8" y="5.3" width="183.8" height="167" fill="none" stroke="#000" stroke-width="1.2"/>
<text x="328.6" y="176.1" text-anchor="end" class="tl">5</text>
<text x="328.6" y="134.38" text-anchor="end" class="tl">10</text>
<text x="328.6" y="92.65" text-anchor="end" class="tl">15</text>
<text x="328.6" y="50.92" text-anchor="end" class="tl">20</text>
<text x="328.6" y="9.2" text-anchor="end" class="tl">25</text>
<text x="332.8" y="188.6" text-anchor="middle" class="tl">0</text>
<text x="361.35" y="188.6" text-anchor="middle" class="tl">5</text>
<text x="389.9" y="188.6" text-anchor="middle" class="tl">10</text>
<text x="418.45" y="188.6" text-anchor="middle" class="tl">15</text>
<text x="447" y="188.6" text-anchor="middle" class="tl">20</text>
<text x="475.55" y="188.6" text-anchor="middle" class="tl">25</text>
<text x="504.1" y="188.6" text-anchor="middle" class="tl">30</text>
<text x="425.3" y="203.3" text-anchor="middle" class="at">Oscillation Number</text>
<text transform="translate(305.2 97.8) rotate(-90)" text-anchor="middle" class="at">Period (s)</text>
<text x="293.4" y="13.5" class="pl">b</text>
<rect x="389.25" y="84.6" width="109.5" height="61.900000000000006" fill="#fff"/>
<defs><clipPath id="ci"><rect x="389.25" y="84.6" width="109.5" height="61.900000000000006"/></clipPath></defs>
<path clip-path="url(#ci)" d="M389.25 110.05 L392.24 110.28 L396.21 109.83 L399.8 109.03 L402.19 109.71 L405.57 109.6 L405.77 132.07 L406.27 132 L406.78 131.77 L407.29 131.39 L407.8 130.88 L408.3 130.24 L408.81 129.5 L409.32 128.66 L409.83 127.76 L410.33 126.81 L410.84 125.83 L411.35 124.85 L411.86 123.9 L412.36 123 L412.87 122.16 L413.38 121.42 L413.89 120.78 L414.39 120.27 L414.9 119.89 L415.41 119.66 L415.92 119.59 L416.44 119.71 L416.96 120.09 L417.48 120.7 L418 121.54 L418.52 122.59 L419.04 123.82 L419.56 125.21 L420.09 126.72 L420.61 128.32 L421.13 129.98 L421.65 131.66 L422.17 133.32 L422.69 134.93 L423.21 136.44 L423.73 137.83 L424.26 139.06 L424.78 140.11 L425.3 140.95 L425.82 141.56 L426.34 141.93 L426.86 142.06 L427.37 142 L427.87 141.82 L428.38 141.53 L428.89 141.13 L429.39 140.63 L429.9 140.04 L430.4 139.37 L430.91 138.63 L431.42 137.83 L431.92 137 L432.43 136.14 L432.93 135.27 L433.44 134.41 L433.95 133.58 L434.45 132.78 L434.96 132.04 L435.47 131.37 L435.97 130.77 L436.48 130.27 L436.98 129.87 L437.49 129.58 L438 129.41 L438.5 129.35 L439 129.41 L439.5 129.61 L440 129.91 L440.49 130.31 L440.99 130.78 L441.49 131.28 L441.99 131.78 L442.48 132.24 L442.98 132.64 L443.48 132.95 L443.98 133.14 L444.47 133.21 L444.97 133.32 L445.47 133.6 L445.96 133.95 L446.46 134.23 L446.96 134.34 L447.46 134.54 L447.95 135.12 L448.45 136.04 L448.95 137.24 L449.45 138.63 L449.94 140.13 L450.44 141.63 L450.94 143.02 L451.44 144.22 L451.94 145.14 L452.43 145.72 L452.93 145.92 L453.43 145.77 L453.93 145.33 L454.42 144.6 L454.92 143.59 L455.42 142.32 L455.92 140.78 L456.41 139.01 L456.91 137.02 L457.41 134.83 L457.9 132.47 L458.4 129.96 L458.9 127.33 L459.4 124.61 L459.89 121.83 L460.39 119.02 L460.89 116.21 L461.39 113.43 L461.88 110.71 L462.38 108.08 L462.88 105.57 L463.38 103.21 L463.88 101.02 L464.37 99.03 L464.87 97.26 L465.37 95.72 L465.87 94.45 L466.36 93.44 L466.86 92.71 L467.36 92.27 L467.86 92.12 L468.35 92.29 L468.85 92.79 L469.35 93.61 L469.85 94.73 L470.34 96.14 L470.84 97.8 L471.34 99.68 L471.83 101.74 L472.33 103.94 L472.83 106.24 L473.33 108.58 L473.82 110.92 L474.32 113.21 L474.82 115.41 L475.32 117.48 L475.81 119.35 L476.31 121.02 L476.81 122.42 L477.31 123.55 L477.81 124.37 L478.3 124.87 L478.8 125.03 L479.3 124.87 L479.8 124.4 L480.29 123.61 L480.79 122.53 L481.29 121.18 L481.78 119.59 L482.28 117.79 L482.78 115.81 L483.28 113.7 L483.77 111.5 L484.27 109.26 L484.77 107.01 L485.27 104.81 L485.76 102.7 L486.26 100.73 L486.76 98.93 L487.26 97.34 L487.75 95.99 L488.25 94.91 L488.75 94.12 L489.25 93.64 L489.75 93.48 L490.25 93.62 L490.75 94.03 L491.25 94.7 L491.75 95.63 L492.25 96.79 L492.76 98.17 L493.26 99.73 L493.76 101.45 L494.26 103.3 L494.76 105.24 L495.27 107.23 L495.77 109.24 L496.27 111.24 L496.77 113.18 L497.27 115.03 L497.77 116.75 L498.28 118.31 L498.78 119.68" fill="none" stroke="#000" stroke-width="1.1" stroke-linejoin="round"/>
<path d="M389.25 146.6L387.05 146.6 M498.75 146.6L496.55 146.6 M389.25 135.25L388.05 135.25 M498.75 135.25L497.55 135.25 M389.25 123.9L387.05 123.9 M498.75 123.9L496.55 123.9 M389.25 112.55L388.05 112.55 M498.75 112.55L497.55 112.55 M389.25 101.2L387.05 101.2 M498.75 101.2L496.55 101.2 M389.25 89.85L388.05 89.85 M498.75 89.85L497.55 89.85 M389.25 146.5L389.25 148.7 M389.25 84.6L389.25 86.8 M399.2 146.5L399.2 147.7 M399.2 84.6L399.2 85.8 M409.15 146.5L409.15 148.7 M409.15 84.6L409.15 86.8 M419.1 146.5L419.1 147.7 M419.1 84.6L419.1 85.8 M429.05 146.5L429.05 148.7 M429.05 84.6L429.05 86.8 M439 146.5L439 147.7 M439 84.6L439 85.8 M448.95 146.5L448.95 148.7 M448.95 84.6L448.95 86.8 M458.9 146.5L458.9 147.7 M458.9 84.6L458.9 85.8 M468.85 146.5L468.85 148.7 M468.85 84.6L468.85 86.8 M478.8 146.5L478.8 147.7 M478.8 84.6L478.8 85.8 M488.75 146.5L488.75 148.7 M488.75 84.6L488.75 86.8 M498.7 146.5L498.7 147.7 M498.7 84.6L498.7 85.8" stroke="#000" stroke-width="0.8"/>
<rect x="389.25" y="84.6" width="109.5" height="61.9" fill="none" stroke="#000" stroke-width="1.0"/>
<text x="385" y="149.8" text-anchor="end" class="il">0</text>
<text x="385" y="127.1" text-anchor="end" class="il">10</text>
<text x="385" y="104.4" text-anchor="end" class="il">20</text>
<text x="389.25" y="157" text-anchor="middle" class="il">0</text>
<text x="409.15" y="157" text-anchor="middle" class="il">20</text>
<text x="429.05" y="157" text-anchor="middle" class="il">40</text>
<text x="448.95" y="157" text-anchor="middle" class="il">60</text>
<text x="468.85" y="157" text-anchor="middle" class="il">80</text>
<text x="488.75" y="157" text-anchor="middle" class="il">100</text>
<text x="444.4" y="168" text-anchor="middle" class="it">Time (s)</text>
<text transform="translate(370.8 119.8) rotate(-90)" text-anchor="middle" class="it">Intensity</text>
</g>
<g id="panel-e">
<defs><clipPath id="ce"><rect x="346.1" y="216.6" width="170.5" height="138.79999999999998"/></clipPath></defs>
<g clip-path="url(#ce)" fill="none" stroke-linejoin="round">
<path d="M356.8 224.5 L357.54 223.02 L358.5 221.2 L359.38 219.66 L360.2 218.4 L360.86 217.68 L361.5 217.4 L362.18 217.41 L363 218.2 L363.55 219.12 L364.17 220.33 L364.83 221.8 L365.5 223.5 L366.18 225.5 L366.89 227.79 L367.6 230.21 L368.3 232.6 L368.98 234.96 L369.64 237.37 L370.31 239.74 L371 242 L371.74 244.15 L372.51 246.21 L373.25 248.17 L373.9 250 L374.84 253.34 L375.6 256 L376.16 257.61 L377 258.6 L377.51 258.86 L378.11 259.04 L378.79 259.18 L379.51 259.3 L380.22 259.43 L380.9 259.6 L381.56 259.77 L382.23 259.91 L382.9 260.07 L383.56 260.26 L384.2 260.53 L384.8 260.9 L385.46 261.46 L386.06 262.12 L386.64 262.89 L387.24 263.78 L387.9 264.8 L388.5 265.78 L389.14 266.88 L389.8 268.06 L390.47 269.3 L391.14 270.56 L391.8 271.8 L392.46 273.1 L393.13 274.51 L393.8 275.94 L394.46 277.3 L395.1 278.52 L395.7 279.5 L396.39 280.36 L397.04 280.98 L397.66 281.4 L398.25 281.68 L398.8 281.9 L399.59 281.94 L400.29 281.68 L401 281.5 L401.73 281.53 L402.48 281.64 L403.4 281.9 L403.95 282.05 L404.56 282.18 L405.21 282.35 L405.89 282.61 L406.59 283.01 L407.3 283.6 L407.93 284.3 L408.58 285.14 L409.26 286.1 L409.94 287.15 L410.63 288.24 L411.32 289.33 L412 290.4 L412.68 291.48 L413.37 292.62 L414.06 293.79 L414.75 294.97 L415.42 296.11 L416.08 297.2 L416.7 298.2 L417.41 299.31 L418.12 300.4 L418.8 301.42 L419.44 302.34 L420.01 303.11 L420.5 303.7 L421.34 304.26 L422 304 L422.72 303.77 L423.54 303.39 L424.4 302.9 L425.07 302.41 L425.77 301.81 L426.49 301.26 L427.2 300.9 L427.84 300.68 L428.45 300.56 L429.13 300.68 L430 301.2 L430.54 301.64 L431.15 302.18 L431.81 302.8 L432.51 303.52 L433.21 304.31 L433.91 305.18 L434.58 306.11 L435.2 307.1 L435.87 308.4 L436.52 309.75 L437.15 311.71 L437.76 313.02 L438.36 315 L438.94 316.24 L439.5 317.56 L440.27 319.12 L441 320.26 L441.7 321.19 L442.37 321.95 L443 322.45 L443.69 323.15 L444.31 322.86 L444.91 322.26 L445.6 322.04 L446.23 320.83 L446.9 319.81 L447.59 318.5 L448.3 317.57 L449 316.65 L449.69 316.09 L450.39 315.45 L451.1 315.17 L451.8 314.93 L452.5 314.77 L453.22 314.4 L453.95 314.19 L454.67 314.63 L455.36 314.6 L456 314.16 L456.65 314.48 L457.19 315.31 L457.76 316.6 L458.5 317.73 L459.04 317.83 L459.65 319.11 L460.31 319.54 L460.98 320.9 L461.66 321.94 L462.31 323.12 L462.9 323.29 L463.63 324.86 L464.28 326.04 L464.92 327.1 L465.57 327.04 L466.3 327.87 L466.88 328.34 L467.49 327.58 L468.12 327.59 L468.77 326.85 L469.42 326.54 L470.07 325.74 L470.7 324.84 L471.34 324.47 L472 324.04 L472.67 323.7 L473.32 323.96 L473.94 323.18 L474.51 322.97 L475 322.37 L475.83 321.87 L476.4 321.67 L477 321.45 L477.75 321.06 L478.53 320.63 L479.3 319.66 L480.04 319.98 L480.78 319.81 L481.5 320.65 L482.21 321.27 L482.92 320.83 L483.6 321.44 L484.26 322.17 L484.9 322.6 L485.5 323.75 L486.33 323.79 L487.1 324.57 L487.83 324.69 L488.5 325.1 L489.11 325.85 L489.7 326.65 L490.24 327.89 L490.9 330.93 L491.58 330.72 L492.37 330.32 L493.1 330.35 L493.98 329.44 L494.8 328.8 L495.3 327.57 L495.81 326.75 L496.6 327.48 L497.1 326.25 L497.7 326.48 L498.36 326.71 L499.04 325.98 L499.72 325.62 L500.35 325.89 L500.9 324.63 L501.67 325.24 L502.31 324.96 L502.89 325.75 L503.5 325.43 L504.17 324.19 L504.84 324.16 L505.5 324.37 L506.1 324.7 L506.8 324.38 L507.41 324.83 L508 326.13 L508.83 326.91 L509.6 326.86 L510.33 328.33 L511 328.24 L511.61 329.05 L512.2 330.54 L512.86 329.97 L513.5 329.62 L514.01 330.9 L514.5 331.93 L515.05 331.99 L515.6 331.63 L516.17 331.46 L516.6 331.43" stroke="#111" stroke-width="1.15"/>
<path d="M359.5 219.6C359.8 219.3 360.72 217.98 361.3 217.8C361.88 217.62 362.25 217.38 363 218.5C363.75 219.62 364.88 222.03 365.8 224.5C366.72 226.97 367.55 230.13 368.5 233.3C369.45 236.47 370.47 240.38 371.5 243.5C372.53 246.62 373.78 249.23 374.7 252C375.62 254.77 376.28 258.53 377 260.1C377.72 261.67 378.22 261.13 379 261.4C379.78 261.67 380.6 261.4 381.7 261.7C382.8 262 384.43 262.3 385.6 263.2C386.77 264.1 387.42 265.02 388.7 267.1C389.98 269.18 391.88 272.98 393.3 275.7C394.72 278.42 396.03 281.67 397.2 283.4C398.37 285.13 399.47 285.77 400.3 286.1C401.13 286.43 401.55 285.58 402.2 285.4C402.85 285.22 403.22 284.68 404.2 285C405.18 285.32 406.67 285.88 408.1 287.3C409.53 288.72 411.25 291.42 412.8 293.5C414.35 295.58 415.98 298.03 417.4 299.8C418.82 301.57 420.28 303.47 421.3 304.1C422.32 304.73 422.72 303.93 423.5 303.6C424.28 303.27 424.92 302.43 426 302.1C427.08 301.77 428.47 300.62 430 301.6C431.53 302.58 433.62 305.5 435.2 308C436.78 310.5 438.07 314.73 439.5 316.6C440.93 318.47 442.5 319.05 443.8 319.2C445.1 319.35 445.85 318.22 447.3 317.5C448.75 316.78 451.05 315.33 452.5 314.9C453.95 314.47 454.7 314.18 456 314.9C457.3 315.62 458.87 317.47 460.3 319.2C461.73 320.93 463.45 323.8 464.6 325.3C465.75 326.8 466.05 328.2 467.2 328.2C468.35 328.2 470.07 326.22 471.5 325.3C472.93 324.38 474.35 323.28 475.8 322.7C477.25 322.12 478.75 321.67 480.2 321.8C481.65 321.93 483.2 322.63 484.5 323.5C485.8 324.37 486.85 325.7 488 327C489.15 328.3 490.4 330.72 491.4 331.3C492.4 331.88 492.98 331.22 494 330.5C495.02 329.78 496.05 327.78 497.5 327C498.95 326.22 501.12 325.95 502.7 325.8C504.28 325.65 505.57 325.75 507 326.1C508.43 326.45 509.87 327.32 511.3 327.9C512.73 328.48 514.72 329.25 515.6 329.6C516.48 329.95 516.43 329.93 516.6 330" stroke="#e01c1c" stroke-width="1.1"/>
</g>
<path d="M346.1 217.6L343.5 217.6 M516.6 217.6L514 217.6 M346.1 233.63L344.8 233.63 M516.6 233.63L515.3 233.63 M346.1 229.59L344.8 229.59 M516.6 229.59L515.3 229.59 M346.1 226.72L344.8 226.72 M516.6 226.72L515.3 226.72 M346.1 224.5L344.8 224.5 M516.6 224.5L515.3 224.5 M346.1 222.69L344.8 222.69 M516.6 222.69L515.3 222.69 M346.1 221.15L344.8 221.15 M516.6 221.15L515.3 221.15 M346.1 219.82L344.8 219.82 M516.6 219.82L515.3 219.82 M346.1 218.65L344.8 218.65 M516.6 218.65L515.3 218.65 M346.1 240.53L343.5 240.53 M516.6 240.53L514 240.53 M346.1 256.56L344.8 256.56 M516.6 256.56L515.3 256.56 M346.1 252.52L344.8 252.52 M516.6 252.52L515.3 252.52 M346.1 249.65L344.8 249.65 M516.6 249.65L515.3 249.65 M346.1 247.43L344.8 247.43 M516.6 247.43L515.3 247.43 M346.1 245.62L344.8 245.62 M516.6 245.62L515.3 245.62 M346.1 244.08L344.8 244.08 M516.6 244.08L515.3 244.08 M346.1 242.75L344.8 242.75 M516.6 242.75L515.3 242.75 M346.1 241.58L344.8 241.58 M516.6 241.58L515.3 241.58 M346.1 263.46L343.5 263.46 M516.6 263.46L514 263.46 M346.1 279.49L344.8 279.49 M516.6 279.49L515.3 279.49 M346.1 275.45L344.8 275.45 M516.6 275.45L515.3 275.45 M346.1 272.58L344.8 272.58 M516.6 272.58L515.3 272.58 M346.1 270.36L344.8 270.36 M516.6 270.36L515.3 270.36 M346.1 268.55L344.8 268.55 M516.6 268.55L515.3 268.55 M346.1 267.01L344.8 267.01 M516.6 267.01L515.3 267.01 M346.1 265.68L344.8 265.68 M516.6 265.68L515.3 265.68 M346.1 264.51L344.8 264.51 M516.6 264.51L515.3 264.51 M346.1 286.39L343.5 286.39 M516.6 286.39L514 286.39 M346.1 302.42L344.8 302.42 M516.6 302.42L515.3 302.42 M346.1 298.38L344.8 298.38 M516.6 298.38L515.3 298.38 M346.1 295.51L344.8 295.51 M516.6 295.51L515.3 295.51 M346.1 293.29L344.8 293.29 M516.6 293.29L515.3 293.29 M346.1 291.48L344.8 291.48 M516.6 291.48L515.3 291.48 M346.1 289.94L344.8 289.94 M516.6 289.94L515.3 289.94 M346.1 288.61L344.8 288.61 M516.6 288.61L515.3 288.61 M346.1 287.44L344.8 287.44 M516.6 287.44L515.3 287.44 M346.1 309.32L343.5 309.32 M516.6 309.32L514 309.32 M346.1 325.35L344.8 325.35 M516.6 325.35L515.3 325.35 M346.1 321.31L344.8 321.31 M516.6 321.31L515.3 321.31 M346.1 318.44L344.8 318.44 M516.6 318.44L515.3 318.44 M346.1 316.22L344.8 316.22 M516.6 316.22L515.3 316.22 M346.1 314.41L344.8 314.41 M516.6 314.41L515.3 314.41 M346.1 312.87L344.8 312.87 M516.6 312.87L515.3 312.87 M346.1 311.54L344.8 311.54 M516.6 311.54L515.3 311.54 M346.1 310.37L344.8 310.37 M516.6 310.37L515.3 310.37 M346.1 332.25L343.5 332.25 M516.6 332.25L514 332.25 M346.1 348.28L344.8 348.28 M516.6 348.28L515.3 348.28 M346.1 344.24L344.8 344.24 M516.6 344.24L515.3 344.24 M346.1 341.37L344.8 341.37 M516.6 341.37L515.3 341.37 M346.1 339.15L344.8 339.15 M516.6 339.15L515.3 339.15 M346.1 337.34L344.8 337.34 M516.6 337.34L515.3 337.34 M346.1 335.8L344.8 335.8 M516.6 335.8L515.3 335.8 M346.1 334.47L344.8 334.47 M516.6 334.47L515.3 334.47 M346.1 333.3L344.8 333.3 M516.6 333.3L515.3 333.3 M346.1 355.18L343.5 355.18 M516.6 355.18L514 355.18 M346.2 355.4L346.2 358 M346.2 217.6L346.2 220.2 M360.4 355.4L360.4 356.8 M360.4 217.6L360.4 219 M374.6 355.4L374.6 358 M374.6 217.6L374.6 220.2 M388.8 355.4L388.8 356.8 M388.8 217.6L388.8 219 M403 355.4L403 358 M403 217.6L403 220.2 M417.2 355.4L417.2 356.8 M417.2 217.6L417.2 219 M431.4 355.4L431.4 358 M431.4 217.6L431.4 220.2 M445.6 355.4L445.6 356.8 M445.6 217.6L445.6 219 M459.8 355.4L459.8 358 M459.8 217.6L459.8 220.2 M474 355.4L474 356.8 M474 217.6L474 219 M488.2 355.4L488.2 358 M488.2 217.6L488.2 220.2 M502.4 355.4L502.4 356.8 M502.4 217.6L502.4 219 M516.6 355.4L516.6 358 M516.6 217.6L516.6 220.2" stroke="#000" stroke-width="0.8"/>
<rect x="346.1" y="217.6" width="170.5" height="137.8" fill="none" stroke="#000" stroke-width="1.2"/>
<text x="336.3" y="222.2" text-anchor="end" class="tl">10</text>
<text x="336.7" y="215.3" class="sup">0</text>
<text x="334" y="245.13" text-anchor="end" class="tl">10</text>
<text x="334.4" y="238.23" class="sup">-1</text>
<text x="334" y="268.06" text-anchor="end" class="tl">10</text>
<text x="334.4" y="261.16" class="sup">-2</text>
<text x="334" y="290.99" text-anchor="end" class="tl">10</text>
<text x="334.4" y="284.09" class="sup">-3</text>
<text x="334" y="313.92" text-anchor="end" class="tl">10</text>
<text x="334.4" y="307.02" class="sup">-4</text>
<text x="334" y="336.85" text-anchor="end" class="tl">10</text>
<text x="334.4" y="329.95" class="sup">-5</text>
<text x="334" y="359.78" text-anchor="end" class="tl">10</text>
<text x="334.4" y="352.88" class="sup">-6</text>
<text x="346.2" y="370" text-anchor="middle" class="tl">0</text>
<text x="374.6" y="370" text-anchor="middle" class="tl">1</text>
<text x="403" y="370" text-anchor="middle" class="tl">2</text>
<text x="431.4" y="370" text-anchor="middle" class="tl">3</text>
<text x="459.8" y="370" text-anchor="middle" class="tl">4</text>
<text x="488.2" y="370" text-anchor="middle" class="tl">5</text>
<text x="516.6" y="370" text-anchor="middle" class="tl">6</text>
<text x="431.7" y="381.2" text-anchor="middle" class="ate">2θ (Degrees)</text>
<text transform="translate(314.8 295) rotate(-90)" text-anchor="middle" class="ate" style="font-size:14.6px">Intensity (a.u.)</text>
<text x="303.6" y="225.5" class="pl2">e</text>
<rect x="448.6" y="222.5" width="62.8" height="27" fill="#fff" stroke="#555" stroke-width="0.7"/>
<path d="M460 229.9H480.8" stroke="#000" stroke-width="1"/>
<path d="M460 241.2H480.8" stroke="#e01c1c" stroke-width="1"/>
<text x="484.4" y="233.3" class="lg2">Raw</text>
<text x="484.4" y="244.6" class="lg2">Fit</text>
</g>
</svg>
</body></html>
